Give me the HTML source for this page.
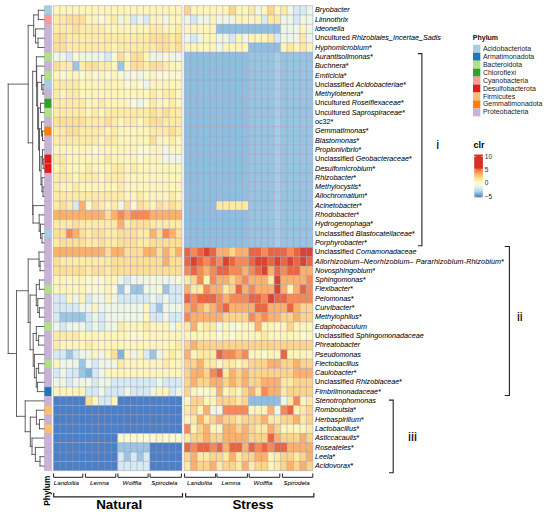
<!DOCTYPE html><html><head><meta charset="utf-8"><style>html,body{margin:0;padding:0;background:#fff;}svg{display:block;}text{font-family:"Liberation Sans",sans-serif;}</style></head><body>
<svg width="550" height="517" viewBox="0 0 550 517">
<rect width="550" height="517" fill="#fff"/>
<rect x="53.40" y="5.65" width="128.60" height="9.30" fill="#fef5ba"/>
<rect x="53.40" y="14.95" width="12.86" height="9.30" fill="#feeba8"/>
<rect x="66.26" y="14.95" width="19.29" height="9.30" fill="#fddf99"/>
<rect x="85.55" y="14.95" width="12.86" height="9.30" fill="#fef5ba"/>
<rect x="98.41" y="14.95" width="6.43" height="9.30" fill="#fbf9d2"/>
<rect x="104.84" y="14.95" width="6.43" height="9.30" fill="#fef5ba"/>
<rect x="111.27" y="14.95" width="6.43" height="9.30" fill="#feeba8"/>
<rect x="117.70" y="14.95" width="6.43" height="9.30" fill="#eef6e6"/>
<rect x="124.13" y="14.95" width="6.43" height="9.30" fill="#fef5ba"/>
<rect x="130.56" y="14.95" width="6.43" height="9.30" fill="#d6eaf3"/>
<rect x="136.99" y="14.95" width="6.43" height="9.30" fill="#eef6e6"/>
<rect x="143.42" y="14.95" width="6.43" height="9.30" fill="#d6eaf3"/>
<rect x="149.85" y="14.95" width="12.86" height="9.30" fill="#fef5ba"/>
<rect x="162.71" y="14.95" width="6.43" height="9.30" fill="#eef6e6"/>
<rect x="169.14" y="14.95" width="12.86" height="9.30" fill="#fef5ba"/>
<rect x="53.40" y="24.25" width="19.29" height="9.30" fill="#feeba8"/>
<rect x="72.69" y="24.25" width="6.43" height="9.30" fill="#fddf99"/>
<rect x="79.12" y="24.25" width="25.72" height="9.30" fill="#feeba8"/>
<rect x="104.84" y="24.25" width="45.01" height="9.30" fill="#fef5ba"/>
<rect x="149.85" y="24.25" width="12.86" height="9.30" fill="#feeba8"/>
<rect x="162.71" y="24.25" width="12.86" height="9.30" fill="#fef5ba"/>
<rect x="175.57" y="24.25" width="6.43" height="9.30" fill="#feeba8"/>
<rect x="53.40" y="33.55" width="12.86" height="9.30" fill="#fddf99"/>
<rect x="66.26" y="33.55" width="83.59" height="9.30" fill="#feeba8"/>
<rect x="149.85" y="33.55" width="19.29" height="9.30" fill="#fddf99"/>
<rect x="169.14" y="33.55" width="6.43" height="9.30" fill="#feeba8"/>
<rect x="175.57" y="33.55" width="6.43" height="9.30" fill="#fddf99"/>
<rect x="53.40" y="42.85" width="12.86" height="9.30" fill="#fddf99"/>
<rect x="66.26" y="42.85" width="45.01" height="9.30" fill="#feeba8"/>
<rect x="111.27" y="42.85" width="6.43" height="9.30" fill="#fef5ba"/>
<rect x="117.70" y="42.85" width="38.58" height="9.30" fill="#feeba8"/>
<rect x="156.28" y="42.85" width="12.86" height="9.30" fill="#fddf99"/>
<rect x="169.14" y="42.85" width="6.43" height="9.30" fill="#feeba8"/>
<rect x="175.57" y="42.85" width="6.43" height="9.30" fill="#fddf99"/>
<rect x="53.40" y="52.15" width="12.86" height="9.30" fill="#eef6e6"/>
<rect x="66.26" y="52.15" width="6.43" height="9.30" fill="#d6eaf3"/>
<rect x="72.69" y="52.15" width="6.43" height="9.30" fill="#fbf9d2"/>
<rect x="79.12" y="52.15" width="25.72" height="9.30" fill="#eef6e6"/>
<rect x="104.84" y="52.15" width="6.43" height="9.30" fill="#d6eaf3"/>
<rect x="111.27" y="52.15" width="6.43" height="9.30" fill="#fbf9d2"/>
<rect x="117.70" y="52.15" width="6.43" height="9.30" fill="#fddf99"/>
<rect x="124.13" y="52.15" width="6.43" height="9.30" fill="#fef5ba"/>
<rect x="130.56" y="52.15" width="12.86" height="9.30" fill="#fddf99"/>
<rect x="143.42" y="52.15" width="6.43" height="9.30" fill="#fef5ba"/>
<rect x="149.85" y="52.15" width="12.86" height="9.30" fill="#eef6e6"/>
<rect x="162.71" y="52.15" width="6.43" height="9.30" fill="#fbf9d2"/>
<rect x="169.14" y="52.15" width="12.86" height="9.30" fill="#eef6e6"/>
<rect x="53.40" y="61.45" width="6.43" height="9.30" fill="#fddf99"/>
<rect x="59.83" y="61.45" width="12.86" height="9.30" fill="#feeba8"/>
<rect x="72.69" y="61.45" width="6.43" height="9.30" fill="#9cc5e4"/>
<rect x="79.12" y="61.45" width="6.43" height="9.30" fill="#feeba8"/>
<rect x="85.55" y="61.45" width="12.86" height="9.30" fill="#fddf99"/>
<rect x="98.41" y="61.45" width="12.86" height="9.30" fill="#feeba8"/>
<rect x="111.27" y="61.45" width="6.43" height="9.30" fill="#fef5ba"/>
<rect x="117.70" y="61.45" width="6.43" height="9.30" fill="#9cc5e4"/>
<rect x="124.13" y="61.45" width="6.43" height="9.30" fill="#fef5ba"/>
<rect x="130.56" y="61.45" width="12.86" height="9.30" fill="#fddf99"/>
<rect x="143.42" y="61.45" width="6.43" height="9.30" fill="#feeba8"/>
<rect x="149.85" y="61.45" width="12.86" height="9.30" fill="#fddf99"/>
<rect x="162.71" y="61.45" width="6.43" height="9.30" fill="#feeba8"/>
<rect x="169.14" y="61.45" width="12.86" height="9.30" fill="#fef5ba"/>
<rect x="53.40" y="70.75" width="6.43" height="9.30" fill="#fef5ba"/>
<rect x="59.83" y="70.75" width="6.43" height="9.30" fill="#fbf9d2"/>
<rect x="66.26" y="70.75" width="12.86" height="9.30" fill="#fef5ba"/>
<rect x="79.12" y="70.75" width="6.43" height="9.30" fill="#fbf9d2"/>
<rect x="85.55" y="70.75" width="6.43" height="9.30" fill="#fef5ba"/>
<rect x="91.98" y="70.75" width="6.43" height="9.30" fill="#fbf9d2"/>
<rect x="98.41" y="70.75" width="6.43" height="9.30" fill="#fef5ba"/>
<rect x="104.84" y="70.75" width="6.43" height="9.30" fill="#fbf9d2"/>
<rect x="111.27" y="70.75" width="6.43" height="9.30" fill="#fef5ba"/>
<rect x="117.70" y="70.75" width="6.43" height="9.30" fill="#fbf9d2"/>
<rect x="124.13" y="70.75" width="6.43" height="9.30" fill="#eef6e6"/>
<rect x="130.56" y="70.75" width="6.43" height="9.30" fill="#fbf9d2"/>
<rect x="136.99" y="70.75" width="6.43" height="9.30" fill="#eef6e6"/>
<rect x="143.42" y="70.75" width="6.43" height="9.30" fill="#fbf9d2"/>
<rect x="149.85" y="70.75" width="6.43" height="9.30" fill="#fef5ba"/>
<rect x="156.28" y="70.75" width="25.72" height="9.30" fill="#fbf9d2"/>
<rect x="53.40" y="80.05" width="25.72" height="9.30" fill="#feeba8"/>
<rect x="79.12" y="80.05" width="45.01" height="9.30" fill="#fef5ba"/>
<rect x="124.13" y="80.05" width="6.43" height="9.30" fill="#fbf9d2"/>
<rect x="130.56" y="80.05" width="6.43" height="9.30" fill="#fef5ba"/>
<rect x="136.99" y="80.05" width="6.43" height="9.30" fill="#fbf9d2"/>
<rect x="143.42" y="80.05" width="6.43" height="9.30" fill="#eef6e6"/>
<rect x="149.85" y="80.05" width="32.15" height="9.30" fill="#fef5ba"/>
<rect x="53.40" y="89.35" width="6.43" height="9.30" fill="#feeba8"/>
<rect x="59.83" y="89.35" width="6.43" height="9.30" fill="#fef5ba"/>
<rect x="66.26" y="89.35" width="12.86" height="9.30" fill="#feeba8"/>
<rect x="79.12" y="89.35" width="70.73" height="9.30" fill="#fef5ba"/>
<rect x="149.85" y="89.35" width="6.43" height="9.30" fill="#feeba8"/>
<rect x="156.28" y="89.35" width="6.43" height="9.30" fill="#fef5ba"/>
<rect x="162.71" y="89.35" width="12.86" height="9.30" fill="#feeba8"/>
<rect x="175.57" y="89.35" width="6.43" height="9.30" fill="#fef5ba"/>
<rect x="53.40" y="98.65" width="32.15" height="9.30" fill="#feeba8"/>
<rect x="85.55" y="98.65" width="12.86" height="9.30" fill="#fef5ba"/>
<rect x="98.41" y="98.65" width="6.43" height="9.30" fill="#feeba8"/>
<rect x="104.84" y="98.65" width="25.72" height="9.30" fill="#fef5ba"/>
<rect x="130.56" y="98.65" width="6.43" height="9.30" fill="#fbf9d2"/>
<rect x="136.99" y="98.65" width="6.43" height="9.30" fill="#eef6e6"/>
<rect x="143.42" y="98.65" width="6.43" height="9.30" fill="#fbf9d2"/>
<rect x="149.85" y="98.65" width="6.43" height="9.30" fill="#feeba8"/>
<rect x="156.28" y="98.65" width="12.86" height="9.30" fill="#fef5ba"/>
<rect x="169.14" y="98.65" width="6.43" height="9.30" fill="#feeba8"/>
<rect x="175.57" y="98.65" width="6.43" height="9.30" fill="#fef5ba"/>
<rect x="53.40" y="107.95" width="32.15" height="9.30" fill="#feeba8"/>
<rect x="85.55" y="107.95" width="6.43" height="9.30" fill="#fef5ba"/>
<rect x="91.98" y="107.95" width="6.43" height="9.30" fill="#feeba8"/>
<rect x="98.41" y="107.95" width="6.43" height="9.30" fill="#fef5ba"/>
<rect x="104.84" y="107.95" width="45.01" height="9.30" fill="#feeba8"/>
<rect x="149.85" y="107.95" width="6.43" height="9.30" fill="#fddf99"/>
<rect x="156.28" y="107.95" width="6.43" height="9.30" fill="#feeba8"/>
<rect x="162.71" y="107.95" width="6.43" height="9.30" fill="#fddf99"/>
<rect x="169.14" y="107.95" width="12.86" height="9.30" fill="#feeba8"/>
<rect x="53.40" y="117.25" width="32.15" height="9.30" fill="#fddf99"/>
<rect x="85.55" y="117.25" width="19.29" height="9.30" fill="#feeba8"/>
<rect x="104.84" y="117.25" width="6.43" height="9.30" fill="#fddf99"/>
<rect x="111.27" y="117.25" width="6.43" height="9.30" fill="#feeba8"/>
<rect x="117.70" y="117.25" width="6.43" height="9.30" fill="#fef5ba"/>
<rect x="124.13" y="117.25" width="12.86" height="9.30" fill="#feeba8"/>
<rect x="136.99" y="117.25" width="6.43" height="9.30" fill="#fef5ba"/>
<rect x="143.42" y="117.25" width="6.43" height="9.30" fill="#feeba8"/>
<rect x="149.85" y="117.25" width="12.86" height="9.30" fill="#fddf99"/>
<rect x="162.71" y="117.25" width="19.29" height="9.30" fill="#feeba8"/>
<rect x="53.40" y="126.55" width="12.86" height="9.30" fill="#feeba8"/>
<rect x="66.26" y="126.55" width="12.86" height="9.30" fill="#fddf99"/>
<rect x="79.12" y="126.55" width="25.72" height="9.30" fill="#feeba8"/>
<rect x="104.84" y="126.55" width="6.43" height="9.30" fill="#fef5ba"/>
<rect x="111.27" y="126.55" width="6.43" height="9.30" fill="#feeba8"/>
<rect x="117.70" y="126.55" width="32.15" height="9.30" fill="#fef5ba"/>
<rect x="149.85" y="126.55" width="19.29" height="9.30" fill="#feeba8"/>
<rect x="169.14" y="126.55" width="6.43" height="9.30" fill="#fddf99"/>
<rect x="175.57" y="126.55" width="6.43" height="9.30" fill="#feeba8"/>
<rect x="53.40" y="135.85" width="45.01" height="9.30" fill="#feeba8"/>
<rect x="98.41" y="135.85" width="6.43" height="9.30" fill="#fef5ba"/>
<rect x="104.84" y="135.85" width="12.86" height="9.30" fill="#feeba8"/>
<rect x="117.70" y="135.85" width="32.15" height="9.30" fill="#fef5ba"/>
<rect x="149.85" y="135.85" width="6.43" height="9.30" fill="#fddf99"/>
<rect x="156.28" y="135.85" width="12.86" height="9.30" fill="#fef5ba"/>
<rect x="169.14" y="135.85" width="6.43" height="9.30" fill="#feeba8"/>
<rect x="175.57" y="135.85" width="6.43" height="9.30" fill="#fef5ba"/>
<rect x="53.40" y="145.15" width="38.58" height="9.30" fill="#fef5ba"/>
<rect x="91.98" y="145.15" width="6.43" height="9.30" fill="#fbf9d2"/>
<rect x="98.41" y="145.15" width="38.58" height="9.30" fill="#fef5ba"/>
<rect x="136.99" y="145.15" width="12.86" height="9.30" fill="#fbf9d2"/>
<rect x="149.85" y="145.15" width="12.86" height="9.30" fill="#fef5ba"/>
<rect x="162.71" y="145.15" width="6.43" height="9.30" fill="#eef6e6"/>
<rect x="169.14" y="145.15" width="12.86" height="9.30" fill="#fef5ba"/>
<rect x="53.40" y="154.45" width="12.86" height="9.30" fill="#feeba8"/>
<rect x="66.26" y="154.45" width="38.58" height="9.30" fill="#fef5ba"/>
<rect x="104.84" y="154.45" width="6.43" height="9.30" fill="#feeba8"/>
<rect x="111.27" y="154.45" width="25.72" height="9.30" fill="#fef5ba"/>
<rect x="136.99" y="154.45" width="6.43" height="9.30" fill="#fbf9d2"/>
<rect x="143.42" y="154.45" width="19.29" height="9.30" fill="#fef5ba"/>
<rect x="162.71" y="154.45" width="19.29" height="9.30" fill="#eef6e6"/>
<rect x="53.40" y="163.75" width="6.43" height="9.30" fill="#fef5ba"/>
<rect x="59.83" y="163.75" width="6.43" height="9.30" fill="#feeba8"/>
<rect x="66.26" y="163.75" width="19.29" height="9.30" fill="#fef5ba"/>
<rect x="85.55" y="163.75" width="6.43" height="9.30" fill="#feeba8"/>
<rect x="91.98" y="163.75" width="19.29" height="9.30" fill="#fef5ba"/>
<rect x="111.27" y="163.75" width="12.86" height="9.30" fill="#feeba8"/>
<rect x="124.13" y="163.75" width="6.43" height="9.30" fill="#fef5ba"/>
<rect x="130.56" y="163.75" width="6.43" height="9.30" fill="#feeba8"/>
<rect x="136.99" y="163.75" width="45.01" height="9.30" fill="#fef5ba"/>
<rect x="53.40" y="173.05" width="19.29" height="9.30" fill="#feeba8"/>
<rect x="72.69" y="173.05" width="6.43" height="9.30" fill="#fef5ba"/>
<rect x="79.12" y="173.05" width="19.29" height="9.30" fill="#feeba8"/>
<rect x="98.41" y="173.05" width="6.43" height="9.30" fill="#fef5ba"/>
<rect x="104.84" y="173.05" width="19.29" height="9.30" fill="#feeba8"/>
<rect x="124.13" y="173.05" width="57.87" height="9.30" fill="#fef5ba"/>
<rect x="53.40" y="182.35" width="6.43" height="9.30" fill="#feeba8"/>
<rect x="59.83" y="182.35" width="12.86" height="9.30" fill="#fef5ba"/>
<rect x="72.69" y="182.35" width="6.43" height="9.30" fill="#feeba8"/>
<rect x="79.12" y="182.35" width="38.58" height="9.30" fill="#fef5ba"/>
<rect x="117.70" y="182.35" width="6.43" height="9.30" fill="#feeba8"/>
<rect x="124.13" y="182.35" width="57.87" height="9.30" fill="#fef5ba"/>
<rect x="53.40" y="191.65" width="70.73" height="9.30" fill="#feeba8"/>
<rect x="124.13" y="191.65" width="12.86" height="9.30" fill="#fef5ba"/>
<rect x="136.99" y="191.65" width="6.43" height="9.30" fill="#feeba8"/>
<rect x="143.42" y="191.65" width="25.72" height="9.30" fill="#fef5ba"/>
<rect x="169.14" y="191.65" width="6.43" height="9.30" fill="#feeba8"/>
<rect x="175.57" y="191.65" width="6.43" height="9.30" fill="#fef5ba"/>
<rect x="53.40" y="200.95" width="6.43" height="9.30" fill="#feeba8"/>
<rect x="59.83" y="200.95" width="6.43" height="9.30" fill="#fddf99"/>
<rect x="66.26" y="200.95" width="6.43" height="9.30" fill="#feeba8"/>
<rect x="72.69" y="200.95" width="6.43" height="9.30" fill="#d6eaf3"/>
<rect x="79.12" y="200.95" width="6.43" height="9.30" fill="#fbb06c"/>
<rect x="85.55" y="200.95" width="6.43" height="9.30" fill="#fbf9d2"/>
<rect x="91.98" y="200.95" width="6.43" height="9.30" fill="#fddf99"/>
<rect x="98.41" y="200.95" width="6.43" height="9.30" fill="#feeba8"/>
<rect x="104.84" y="200.95" width="6.43" height="9.30" fill="#fef5ba"/>
<rect x="111.27" y="200.95" width="6.43" height="9.30" fill="#feeba8"/>
<rect x="117.70" y="200.95" width="6.43" height="9.30" fill="#eef6e6"/>
<rect x="124.13" y="200.95" width="6.43" height="9.30" fill="#fddf99"/>
<rect x="130.56" y="200.95" width="6.43" height="9.30" fill="#fbf9d2"/>
<rect x="136.99" y="200.95" width="6.43" height="9.30" fill="#fddf99"/>
<rect x="143.42" y="200.95" width="6.43" height="9.30" fill="#feeba8"/>
<rect x="149.85" y="200.95" width="6.43" height="9.30" fill="#fef5ba"/>
<rect x="156.28" y="200.95" width="6.43" height="9.30" fill="#fddf99"/>
<rect x="162.71" y="200.95" width="6.43" height="9.30" fill="#feeba8"/>
<rect x="169.14" y="200.95" width="6.43" height="9.30" fill="#fddf99"/>
<rect x="175.57" y="200.95" width="6.43" height="9.30" fill="#feeba8"/>
<rect x="53.40" y="210.25" width="51.44" height="9.30" fill="#fbb06c"/>
<rect x="104.84" y="210.25" width="6.43" height="9.30" fill="#fddf99"/>
<rect x="111.27" y="210.25" width="6.43" height="9.30" fill="#fbb06c"/>
<rect x="117.70" y="210.25" width="6.43" height="9.30" fill="#f58a55"/>
<rect x="124.13" y="210.25" width="6.43" height="9.30" fill="#fbb06c"/>
<rect x="130.56" y="210.25" width="19.29" height="9.30" fill="#f58a55"/>
<rect x="149.85" y="210.25" width="32.15" height="9.30" fill="#fbb06c"/>
<rect x="53.40" y="219.55" width="19.29" height="9.30" fill="#feeba8"/>
<rect x="72.69" y="219.55" width="6.43" height="9.30" fill="#fddf99"/>
<rect x="79.12" y="219.55" width="38.58" height="9.30" fill="#feeba8"/>
<rect x="117.70" y="219.55" width="6.43" height="9.30" fill="#fbb06c"/>
<rect x="124.13" y="219.55" width="6.43" height="9.30" fill="#feeba8"/>
<rect x="130.56" y="219.55" width="19.29" height="9.30" fill="#fddf99"/>
<rect x="149.85" y="219.55" width="32.15" height="9.30" fill="#feeba8"/>
<rect x="53.40" y="228.85" width="12.86" height="9.30" fill="#fddf99"/>
<rect x="66.26" y="228.85" width="6.43" height="9.30" fill="#f58a55"/>
<rect x="72.69" y="228.85" width="6.43" height="9.30" fill="#fbb06c"/>
<rect x="79.12" y="228.85" width="6.43" height="9.30" fill="#fddf99"/>
<rect x="85.55" y="228.85" width="6.43" height="9.30" fill="#feeba8"/>
<rect x="91.98" y="228.85" width="12.86" height="9.30" fill="#fddf99"/>
<rect x="104.84" y="228.85" width="12.86" height="9.30" fill="#feeba8"/>
<rect x="117.70" y="228.85" width="19.29" height="9.30" fill="#fddf99"/>
<rect x="136.99" y="228.85" width="12.86" height="9.30" fill="#feeba8"/>
<rect x="149.85" y="228.85" width="6.43" height="9.30" fill="#fbb06c"/>
<rect x="156.28" y="228.85" width="6.43" height="9.30" fill="#fddf99"/>
<rect x="162.71" y="228.85" width="6.43" height="9.30" fill="#f58a55"/>
<rect x="169.14" y="228.85" width="6.43" height="9.30" fill="#fbb06c"/>
<rect x="175.57" y="228.85" width="6.43" height="9.30" fill="#fddf99"/>
<rect x="53.40" y="238.15" width="6.43" height="9.30" fill="#feeba8"/>
<rect x="59.83" y="238.15" width="25.72" height="9.30" fill="#fddf99"/>
<rect x="85.55" y="238.15" width="12.86" height="9.30" fill="#feeba8"/>
<rect x="98.41" y="238.15" width="6.43" height="9.30" fill="#fddf99"/>
<rect x="104.84" y="238.15" width="12.86" height="9.30" fill="#feeba8"/>
<rect x="117.70" y="238.15" width="19.29" height="9.30" fill="#fddf99"/>
<rect x="136.99" y="238.15" width="12.86" height="9.30" fill="#feeba8"/>
<rect x="149.85" y="238.15" width="32.15" height="9.30" fill="#fddf99"/>
<rect x="53.40" y="247.45" width="51.44" height="9.30" fill="#fbb06c"/>
<rect x="104.84" y="247.45" width="6.43" height="9.30" fill="#fddf99"/>
<rect x="111.27" y="247.45" width="12.86" height="9.30" fill="#fbb06c"/>
<rect x="124.13" y="247.45" width="19.29" height="9.30" fill="#fddf99"/>
<rect x="143.42" y="247.45" width="12.86" height="9.30" fill="#fbb06c"/>
<rect x="156.28" y="247.45" width="6.43" height="9.30" fill="#fddf99"/>
<rect x="162.71" y="247.45" width="6.43" height="9.30" fill="#fbb06c"/>
<rect x="169.14" y="247.45" width="6.43" height="9.30" fill="#fddf99"/>
<rect x="175.57" y="247.45" width="6.43" height="9.30" fill="#fbb06c"/>
<rect x="53.40" y="256.75" width="6.43" height="9.30" fill="#fddf99"/>
<rect x="59.83" y="256.75" width="51.44" height="9.30" fill="#feeba8"/>
<rect x="111.27" y="256.75" width="51.44" height="9.30" fill="#fddf99"/>
<rect x="162.71" y="256.75" width="6.43" height="9.30" fill="#fbb06c"/>
<rect x="169.14" y="256.75" width="12.86" height="9.30" fill="#fddf99"/>
<rect x="53.40" y="266.05" width="32.15" height="9.30" fill="#fddf99"/>
<rect x="85.55" y="266.05" width="6.43" height="9.30" fill="#feeba8"/>
<rect x="91.98" y="266.05" width="12.86" height="9.30" fill="#fddf99"/>
<rect x="104.84" y="266.05" width="6.43" height="9.30" fill="#feeba8"/>
<rect x="111.27" y="266.05" width="70.73" height="9.30" fill="#fddf99"/>
<rect x="53.40" y="275.35" width="32.15" height="9.30" fill="#fef5ba"/>
<rect x="85.55" y="275.35" width="19.29" height="9.30" fill="#fbf9d2"/>
<rect x="104.84" y="275.35" width="12.86" height="9.30" fill="#fef5ba"/>
<rect x="117.70" y="275.35" width="6.43" height="9.30" fill="#eef6e6"/>
<rect x="124.13" y="275.35" width="6.43" height="9.30" fill="#d6eaf3"/>
<rect x="130.56" y="275.35" width="19.29" height="9.30" fill="#eef6e6"/>
<rect x="149.85" y="275.35" width="6.43" height="9.30" fill="#fbf9d2"/>
<rect x="156.28" y="275.35" width="19.29" height="9.30" fill="#eef6e6"/>
<rect x="175.57" y="275.35" width="6.43" height="9.30" fill="#fbf9d2"/>
<rect x="53.40" y="284.65" width="32.15" height="9.30" fill="#fef5ba"/>
<rect x="85.55" y="284.65" width="19.29" height="9.30" fill="#fbf9d2"/>
<rect x="104.84" y="284.65" width="6.43" height="9.30" fill="#fef5ba"/>
<rect x="111.27" y="284.65" width="6.43" height="9.30" fill="#fbf9d2"/>
<rect x="117.70" y="284.65" width="6.43" height="9.30" fill="#9cc5e4"/>
<rect x="124.13" y="284.65" width="6.43" height="9.30" fill="#eef6e6"/>
<rect x="130.56" y="284.65" width="12.86" height="9.30" fill="#9cc5e4"/>
<rect x="143.42" y="284.65" width="12.86" height="9.30" fill="#eef6e6"/>
<rect x="156.28" y="284.65" width="6.43" height="9.30" fill="#fbf9d2"/>
<rect x="162.71" y="284.65" width="6.43" height="9.30" fill="#9cc5e4"/>
<rect x="169.14" y="284.65" width="12.86" height="9.30" fill="#d6eaf3"/>
<rect x="53.40" y="293.95" width="12.86" height="9.30" fill="#d6eaf3"/>
<rect x="66.26" y="293.95" width="6.43" height="9.30" fill="#fef5ba"/>
<rect x="72.69" y="293.95" width="6.43" height="9.30" fill="#eef6e6"/>
<rect x="79.12" y="293.95" width="6.43" height="9.30" fill="#fef5ba"/>
<rect x="85.55" y="293.95" width="6.43" height="9.30" fill="#d6eaf3"/>
<rect x="91.98" y="293.95" width="12.86" height="9.30" fill="#eef6e6"/>
<rect x="104.84" y="293.95" width="6.43" height="9.30" fill="#fef5ba"/>
<rect x="111.27" y="293.95" width="6.43" height="9.30" fill="#eef6e6"/>
<rect x="117.70" y="293.95" width="32.15" height="9.30" fill="#d6eaf3"/>
<rect x="149.85" y="293.95" width="6.43" height="9.30" fill="#eef6e6"/>
<rect x="156.28" y="293.95" width="6.43" height="9.30" fill="#d6eaf3"/>
<rect x="162.71" y="293.95" width="6.43" height="9.30" fill="#eef6e6"/>
<rect x="169.14" y="293.95" width="12.86" height="9.30" fill="#d6eaf3"/>
<rect x="53.40" y="303.25" width="25.72" height="9.30" fill="#d6eaf3"/>
<rect x="79.12" y="303.25" width="12.86" height="9.30" fill="#eef6e6"/>
<rect x="91.98" y="303.25" width="6.43" height="9.30" fill="#fef5ba"/>
<rect x="98.41" y="303.25" width="45.01" height="9.30" fill="#eef6e6"/>
<rect x="143.42" y="303.25" width="6.43" height="9.30" fill="#fef5ba"/>
<rect x="149.85" y="303.25" width="6.43" height="9.30" fill="#d6eaf3"/>
<rect x="156.28" y="303.25" width="6.43" height="9.30" fill="#9cc5e4"/>
<rect x="162.71" y="303.25" width="19.29" height="9.30" fill="#eef6e6"/>
<rect x="53.40" y="312.55" width="6.43" height="9.30" fill="#d6eaf3"/>
<rect x="59.83" y="312.55" width="25.72" height="9.30" fill="#9cc5e4"/>
<rect x="85.55" y="312.55" width="6.43" height="9.30" fill="#d6eaf3"/>
<rect x="91.98" y="312.55" width="6.43" height="9.30" fill="#eef6e6"/>
<rect x="98.41" y="312.55" width="6.43" height="9.30" fill="#d6eaf3"/>
<rect x="104.84" y="312.55" width="38.58" height="9.30" fill="#eef6e6"/>
<rect x="143.42" y="312.55" width="6.43" height="9.30" fill="#fef5ba"/>
<rect x="149.85" y="312.55" width="12.86" height="9.30" fill="#d6eaf3"/>
<rect x="162.71" y="312.55" width="6.43" height="9.30" fill="#eef6e6"/>
<rect x="169.14" y="312.55" width="12.86" height="9.30" fill="#d6eaf3"/>
<rect x="53.40" y="321.85" width="6.43" height="9.30" fill="#eef6e6"/>
<rect x="59.83" y="321.85" width="6.43" height="9.30" fill="#d6eaf3"/>
<rect x="66.26" y="321.85" width="19.29" height="9.30" fill="#eef6e6"/>
<rect x="85.55" y="321.85" width="6.43" height="9.30" fill="#d6eaf3"/>
<rect x="91.98" y="321.85" width="6.43" height="9.30" fill="#eef6e6"/>
<rect x="98.41" y="321.85" width="6.43" height="9.30" fill="#d6eaf3"/>
<rect x="104.84" y="321.85" width="12.86" height="9.30" fill="#eef6e6"/>
<rect x="117.70" y="321.85" width="6.43" height="9.30" fill="#feeba8"/>
<rect x="124.13" y="321.85" width="19.29" height="9.30" fill="#fef5ba"/>
<rect x="143.42" y="321.85" width="6.43" height="9.30" fill="#feeba8"/>
<rect x="149.85" y="321.85" width="19.29" height="9.30" fill="#fef5ba"/>
<rect x="169.14" y="321.85" width="6.43" height="9.30" fill="#eef6e6"/>
<rect x="175.57" y="321.85" width="6.43" height="9.30" fill="#fef5ba"/>
<rect x="53.40" y="331.15" width="25.72" height="9.30" fill="#feeba8"/>
<rect x="79.12" y="331.15" width="51.44" height="9.30" fill="#fef5ba"/>
<rect x="130.56" y="331.15" width="12.86" height="9.30" fill="#fbf9d2"/>
<rect x="143.42" y="331.15" width="38.58" height="9.30" fill="#fef5ba"/>
<rect x="53.40" y="340.45" width="6.43" height="9.30" fill="#feeba8"/>
<rect x="59.83" y="340.45" width="25.72" height="9.30" fill="#fef5ba"/>
<rect x="85.55" y="340.45" width="6.43" height="9.30" fill="#feeba8"/>
<rect x="91.98" y="340.45" width="83.59" height="9.30" fill="#fef5ba"/>
<rect x="175.57" y="340.45" width="6.43" height="9.30" fill="#feeba8"/>
<rect x="53.40" y="349.75" width="12.86" height="9.30" fill="#d6eaf3"/>
<rect x="66.26" y="349.75" width="6.43" height="9.30" fill="#9cc5e4"/>
<rect x="72.69" y="349.75" width="6.43" height="9.30" fill="#d6eaf3"/>
<rect x="79.12" y="349.75" width="12.86" height="9.30" fill="#eef6e6"/>
<rect x="91.98" y="349.75" width="6.43" height="9.30" fill="#fef5ba"/>
<rect x="98.41" y="349.75" width="6.43" height="9.30" fill="#eef6e6"/>
<rect x="104.84" y="349.75" width="6.43" height="9.30" fill="#fef5ba"/>
<rect x="111.27" y="349.75" width="6.43" height="9.30" fill="#fddf99"/>
<rect x="117.70" y="349.75" width="6.43" height="9.30" fill="#7eb3db"/>
<rect x="124.13" y="349.75" width="6.43" height="9.30" fill="#fef5ba"/>
<rect x="130.56" y="349.75" width="6.43" height="9.30" fill="#eef6e6"/>
<rect x="136.99" y="349.75" width="6.43" height="9.30" fill="#fef5ba"/>
<rect x="143.42" y="349.75" width="6.43" height="9.30" fill="#d6eaf3"/>
<rect x="149.85" y="349.75" width="6.43" height="9.30" fill="#9cc5e4"/>
<rect x="156.28" y="349.75" width="6.43" height="9.30" fill="#eef6e6"/>
<rect x="162.71" y="349.75" width="6.43" height="9.30" fill="#fef5ba"/>
<rect x="169.14" y="349.75" width="6.43" height="9.30" fill="#feeba8"/>
<rect x="175.57" y="349.75" width="6.43" height="9.30" fill="#fef5ba"/>
<rect x="53.40" y="359.05" width="6.43" height="9.30" fill="#fef5ba"/>
<rect x="59.83" y="359.05" width="19.29" height="9.30" fill="#eef6e6"/>
<rect x="79.12" y="359.05" width="6.43" height="9.30" fill="#9cc5e4"/>
<rect x="85.55" y="359.05" width="6.43" height="9.30" fill="#eef6e6"/>
<rect x="91.98" y="359.05" width="6.43" height="9.30" fill="#d6eaf3"/>
<rect x="98.41" y="359.05" width="19.29" height="9.30" fill="#eef6e6"/>
<rect x="117.70" y="359.05" width="6.43" height="9.30" fill="#feeba8"/>
<rect x="124.13" y="359.05" width="38.58" height="9.30" fill="#fef5ba"/>
<rect x="162.71" y="359.05" width="6.43" height="9.30" fill="#feeba8"/>
<rect x="169.14" y="359.05" width="12.86" height="9.30" fill="#fef5ba"/>
<rect x="53.40" y="368.35" width="6.43" height="9.30" fill="#d6eaf3"/>
<rect x="59.83" y="368.35" width="6.43" height="9.30" fill="#eef6e6"/>
<rect x="66.26" y="368.35" width="12.86" height="9.30" fill="#d6eaf3"/>
<rect x="79.12" y="368.35" width="6.43" height="9.30" fill="#9cc5e4"/>
<rect x="85.55" y="368.35" width="6.43" height="9.30" fill="#7eb3db"/>
<rect x="91.98" y="368.35" width="6.43" height="9.30" fill="#d6eaf3"/>
<rect x="98.41" y="368.35" width="6.43" height="9.30" fill="#eef6e6"/>
<rect x="104.84" y="368.35" width="77.16" height="9.30" fill="#fef5ba"/>
<rect x="53.40" y="377.65" width="12.86" height="9.30" fill="#eef6e6"/>
<rect x="66.26" y="377.65" width="6.43" height="9.30" fill="#d6eaf3"/>
<rect x="72.69" y="377.65" width="19.29" height="9.30" fill="#eef6e6"/>
<rect x="91.98" y="377.65" width="6.43" height="9.30" fill="#d6eaf3"/>
<rect x="98.41" y="377.65" width="12.86" height="9.30" fill="#eef6e6"/>
<rect x="111.27" y="377.65" width="45.01" height="9.30" fill="#d6eaf3"/>
<rect x="156.28" y="377.65" width="6.43" height="9.30" fill="#eef6e6"/>
<rect x="162.71" y="377.65" width="19.29" height="9.30" fill="#d6eaf3"/>
<rect x="53.40" y="386.95" width="32.15" height="9.30" fill="#fef5ba"/>
<rect x="85.55" y="386.95" width="12.86" height="9.30" fill="#d6eaf3"/>
<rect x="98.41" y="386.95" width="6.43" height="9.30" fill="#eef6e6"/>
<rect x="104.84" y="386.95" width="19.29" height="9.30" fill="#d6eaf3"/>
<rect x="124.13" y="386.95" width="6.43" height="9.30" fill="#eef6e6"/>
<rect x="130.56" y="386.95" width="19.29" height="9.30" fill="#d6eaf3"/>
<rect x="149.85" y="386.95" width="6.43" height="9.30" fill="#eef6e6"/>
<rect x="156.28" y="386.95" width="12.86" height="9.30" fill="#fef5ba"/>
<rect x="169.14" y="386.95" width="6.43" height="9.30" fill="#d6eaf3"/>
<rect x="175.57" y="386.95" width="6.43" height="9.30" fill="#eef6e6"/>
<rect x="53.40" y="396.25" width="32.15" height="9.30" fill="#4c7fc5"/>
<rect x="85.55" y="396.25" width="6.43" height="9.30" fill="#fddf99"/>
<rect x="91.98" y="396.25" width="6.43" height="9.30" fill="#fef5ba"/>
<rect x="98.41" y="396.25" width="12.86" height="9.30" fill="#d6eaf3"/>
<rect x="111.27" y="396.25" width="6.43" height="9.30" fill="#fef5ba"/>
<rect x="117.70" y="396.25" width="64.30" height="9.30" fill="#4c7fc5"/>
<rect x="53.40" y="405.55" width="128.60" height="9.30" fill="#4c7fc5"/>
<rect x="53.40" y="414.85" width="128.60" height="9.30" fill="#4c7fc5"/>
<rect x="53.40" y="424.15" width="128.60" height="9.30" fill="#4c7fc5"/>
<rect x="53.40" y="433.45" width="64.30" height="9.30" fill="#4c7fc5"/>
<rect x="117.70" y="433.45" width="38.58" height="9.30" fill="#fbf9d2"/>
<rect x="156.28" y="433.45" width="6.43" height="9.30" fill="#fef5ba"/>
<rect x="162.71" y="433.45" width="19.29" height="9.30" fill="#fbf9d2"/>
<rect x="53.40" y="442.75" width="64.30" height="9.30" fill="#4c7fc5"/>
<rect x="117.70" y="442.75" width="32.15" height="9.30" fill="#9cc5e4"/>
<rect x="149.85" y="442.75" width="32.15" height="9.30" fill="#4c7fc5"/>
<rect x="53.40" y="452.05" width="64.30" height="9.30" fill="#4c7fc5"/>
<rect x="117.70" y="452.05" width="6.43" height="9.30" fill="#d6eaf3"/>
<rect x="124.13" y="452.05" width="6.43" height="9.30" fill="#9cc5e4"/>
<rect x="130.56" y="452.05" width="6.43" height="9.30" fill="#d6eaf3"/>
<rect x="136.99" y="452.05" width="6.43" height="9.30" fill="#9cc5e4"/>
<rect x="143.42" y="452.05" width="6.43" height="9.30" fill="#d6eaf3"/>
<rect x="149.85" y="452.05" width="32.15" height="9.30" fill="#4c7fc5"/>
<rect x="53.40" y="461.35" width="64.30" height="9.30" fill="#4c7fc5"/>
<rect x="117.70" y="461.35" width="32.15" height="9.30" fill="#d6eaf3"/>
<rect x="149.85" y="461.35" width="32.15" height="9.30" fill="#4c7fc5"/>
<rect x="184.20" y="5.65" width="6.43" height="9.30" fill="#fcd48c"/>
<rect x="190.63" y="5.65" width="38.58" height="9.30" fill="#fef5ba"/>
<rect x="229.21" y="5.65" width="6.43" height="9.30" fill="#fcd48c"/>
<rect x="235.64" y="5.65" width="12.86" height="9.30" fill="#fef5ba"/>
<rect x="248.50" y="5.65" width="6.43" height="9.30" fill="#feeaa4"/>
<rect x="254.93" y="5.65" width="6.43" height="9.30" fill="#eef6e6"/>
<rect x="261.36" y="5.65" width="6.43" height="9.30" fill="#fef5ba"/>
<rect x="267.79" y="5.65" width="6.43" height="9.30" fill="#fcd48c"/>
<rect x="274.22" y="5.65" width="6.43" height="9.30" fill="#fef5ba"/>
<rect x="280.65" y="5.65" width="6.43" height="9.30" fill="#feeaa4"/>
<rect x="287.08" y="5.65" width="6.43" height="9.30" fill="#eef6e6"/>
<rect x="293.51" y="5.65" width="12.86" height="9.30" fill="#d6eaf3"/>
<rect x="306.37" y="5.65" width="6.43" height="9.30" fill="#eef6e6"/>
<rect x="184.20" y="14.95" width="6.43" height="9.30" fill="#eef6e6"/>
<rect x="190.63" y="14.95" width="6.43" height="9.30" fill="#d6eaf3"/>
<rect x="197.06" y="14.95" width="12.86" height="9.30" fill="#eef6e6"/>
<rect x="209.92" y="14.95" width="6.43" height="9.30" fill="#fef5ba"/>
<rect x="216.35" y="14.95" width="19.29" height="9.30" fill="#eef6e6"/>
<rect x="235.64" y="14.95" width="25.72" height="9.30" fill="#fef5ba"/>
<rect x="261.36" y="14.95" width="6.43" height="9.30" fill="#d6eaf3"/>
<rect x="267.79" y="14.95" width="12.86" height="9.30" fill="#feeaa4"/>
<rect x="280.65" y="14.95" width="12.86" height="9.30" fill="#eef6e6"/>
<rect x="293.51" y="14.95" width="6.43" height="9.30" fill="#d6eaf3"/>
<rect x="299.94" y="14.95" width="12.86" height="9.30" fill="#eef6e6"/>
<rect x="184.20" y="24.25" width="32.15" height="9.30" fill="#fef5ba"/>
<rect x="216.35" y="24.25" width="64.30" height="9.30" fill="#8ebfe0"/>
<rect x="280.65" y="24.25" width="19.29" height="9.30" fill="#eef6e6"/>
<rect x="299.94" y="24.25" width="6.43" height="9.30" fill="#fef5ba"/>
<rect x="306.37" y="24.25" width="6.43" height="9.30" fill="#eef6e6"/>
<rect x="184.20" y="33.55" width="6.43" height="9.30" fill="#eef6e6"/>
<rect x="190.63" y="33.55" width="6.43" height="9.30" fill="#d6eaf3"/>
<rect x="197.06" y="33.55" width="6.43" height="9.30" fill="#eef6e6"/>
<rect x="203.49" y="33.55" width="12.86" height="9.30" fill="#fef5ba"/>
<rect x="216.35" y="33.55" width="12.86" height="9.30" fill="#eef6e6"/>
<rect x="229.21" y="33.55" width="6.43" height="9.30" fill="#d6eaf3"/>
<rect x="235.64" y="33.55" width="6.43" height="9.30" fill="#fef5ba"/>
<rect x="242.07" y="33.55" width="6.43" height="9.30" fill="#eef6e6"/>
<rect x="248.50" y="33.55" width="19.29" height="9.30" fill="#fef5ba"/>
<rect x="267.79" y="33.55" width="6.43" height="9.30" fill="#feeaa4"/>
<rect x="274.22" y="33.55" width="6.43" height="9.30" fill="#d6eaf3"/>
<rect x="280.65" y="33.55" width="19.29" height="9.30" fill="#eef6e6"/>
<rect x="299.94" y="33.55" width="6.43" height="9.30" fill="#feeaa4"/>
<rect x="306.37" y="33.55" width="6.43" height="9.30" fill="#eef6e6"/>
<rect x="184.20" y="42.85" width="32.15" height="9.30" fill="#fef5ba"/>
<rect x="216.35" y="42.85" width="6.43" height="9.30" fill="#eef6e6"/>
<rect x="222.78" y="42.85" width="25.72" height="9.30" fill="#fef5ba"/>
<rect x="248.50" y="42.85" width="32.15" height="9.30" fill="#8ebfe0"/>
<rect x="280.65" y="42.85" width="6.43" height="9.30" fill="#fef5ba"/>
<rect x="287.08" y="42.85" width="6.43" height="9.30" fill="#feeaa4"/>
<rect x="293.51" y="42.85" width="6.43" height="9.30" fill="#fef5ba"/>
<rect x="299.94" y="42.85" width="6.43" height="9.30" fill="#feeaa4"/>
<rect x="306.37" y="42.85" width="6.43" height="9.30" fill="#fef5ba"/>
<rect x="184.20" y="52.15" width="64.30" height="9.30" fill="#8ebfe0"/>
<rect x="248.50" y="52.15" width="25.72" height="9.30" fill="#96c4e2"/>
<rect x="274.22" y="52.15" width="6.43" height="9.30" fill="#a6cde7"/>
<rect x="280.65" y="52.15" width="32.15" height="9.30" fill="#96c4e2"/>
<rect x="184.20" y="61.45" width="64.30" height="9.30" fill="#8ebfe0"/>
<rect x="248.50" y="61.45" width="25.72" height="9.30" fill="#96c4e2"/>
<rect x="274.22" y="61.45" width="6.43" height="9.30" fill="#a6cde7"/>
<rect x="280.65" y="61.45" width="32.15" height="9.30" fill="#96c4e2"/>
<rect x="184.20" y="70.75" width="64.30" height="9.30" fill="#8ebfe0"/>
<rect x="248.50" y="70.75" width="25.72" height="9.30" fill="#96c4e2"/>
<rect x="274.22" y="70.75" width="6.43" height="9.30" fill="#a6cde7"/>
<rect x="280.65" y="70.75" width="32.15" height="9.30" fill="#96c4e2"/>
<rect x="184.20" y="80.05" width="64.30" height="9.30" fill="#8ebfe0"/>
<rect x="248.50" y="80.05" width="25.72" height="9.30" fill="#96c4e2"/>
<rect x="274.22" y="80.05" width="6.43" height="9.30" fill="#a6cde7"/>
<rect x="280.65" y="80.05" width="32.15" height="9.30" fill="#96c4e2"/>
<rect x="184.20" y="89.35" width="64.30" height="9.30" fill="#8ebfe0"/>
<rect x="248.50" y="89.35" width="25.72" height="9.30" fill="#96c4e2"/>
<rect x="274.22" y="89.35" width="6.43" height="9.30" fill="#a6cde7"/>
<rect x="280.65" y="89.35" width="32.15" height="9.30" fill="#96c4e2"/>
<rect x="184.20" y="98.65" width="64.30" height="9.30" fill="#8ebfe0"/>
<rect x="248.50" y="98.65" width="25.72" height="9.30" fill="#96c4e2"/>
<rect x="274.22" y="98.65" width="6.43" height="9.30" fill="#a6cde7"/>
<rect x="280.65" y="98.65" width="32.15" height="9.30" fill="#96c4e2"/>
<rect x="184.20" y="107.95" width="64.30" height="9.30" fill="#8ebfe0"/>
<rect x="248.50" y="107.95" width="25.72" height="9.30" fill="#96c4e2"/>
<rect x="274.22" y="107.95" width="6.43" height="9.30" fill="#a6cde7"/>
<rect x="280.65" y="107.95" width="32.15" height="9.30" fill="#96c4e2"/>
<rect x="184.20" y="117.25" width="64.30" height="9.30" fill="#8ebfe0"/>
<rect x="248.50" y="117.25" width="25.72" height="9.30" fill="#96c4e2"/>
<rect x="274.22" y="117.25" width="6.43" height="9.30" fill="#a6cde7"/>
<rect x="280.65" y="117.25" width="32.15" height="9.30" fill="#96c4e2"/>
<rect x="184.20" y="126.55" width="64.30" height="9.30" fill="#8ebfe0"/>
<rect x="248.50" y="126.55" width="25.72" height="9.30" fill="#96c4e2"/>
<rect x="274.22" y="126.55" width="6.43" height="9.30" fill="#a6cde7"/>
<rect x="280.65" y="126.55" width="32.15" height="9.30" fill="#96c4e2"/>
<rect x="184.20" y="135.85" width="64.30" height="9.30" fill="#8ebfe0"/>
<rect x="248.50" y="135.85" width="25.72" height="9.30" fill="#96c4e2"/>
<rect x="274.22" y="135.85" width="6.43" height="9.30" fill="#a6cde7"/>
<rect x="280.65" y="135.85" width="32.15" height="9.30" fill="#96c4e2"/>
<rect x="184.20" y="145.15" width="64.30" height="9.30" fill="#8ebfe0"/>
<rect x="248.50" y="145.15" width="25.72" height="9.30" fill="#96c4e2"/>
<rect x="274.22" y="145.15" width="6.43" height="9.30" fill="#a6cde7"/>
<rect x="280.65" y="145.15" width="32.15" height="9.30" fill="#96c4e2"/>
<rect x="184.20" y="154.45" width="64.30" height="9.30" fill="#8ebfe0"/>
<rect x="248.50" y="154.45" width="25.72" height="9.30" fill="#96c4e2"/>
<rect x="274.22" y="154.45" width="6.43" height="9.30" fill="#a6cde7"/>
<rect x="280.65" y="154.45" width="32.15" height="9.30" fill="#96c4e2"/>
<rect x="184.20" y="163.75" width="64.30" height="9.30" fill="#8ebfe0"/>
<rect x="248.50" y="163.75" width="25.72" height="9.30" fill="#96c4e2"/>
<rect x="274.22" y="163.75" width="6.43" height="9.30" fill="#a6cde7"/>
<rect x="280.65" y="163.75" width="32.15" height="9.30" fill="#96c4e2"/>
<rect x="184.20" y="173.05" width="64.30" height="9.30" fill="#8ebfe0"/>
<rect x="248.50" y="173.05" width="25.72" height="9.30" fill="#96c4e2"/>
<rect x="274.22" y="173.05" width="6.43" height="9.30" fill="#a6cde7"/>
<rect x="280.65" y="173.05" width="32.15" height="9.30" fill="#96c4e2"/>
<rect x="184.20" y="182.35" width="64.30" height="9.30" fill="#8ebfe0"/>
<rect x="248.50" y="182.35" width="25.72" height="9.30" fill="#96c4e2"/>
<rect x="274.22" y="182.35" width="6.43" height="9.30" fill="#a6cde7"/>
<rect x="280.65" y="182.35" width="32.15" height="9.30" fill="#96c4e2"/>
<rect x="184.20" y="191.65" width="64.30" height="9.30" fill="#8ebfe0"/>
<rect x="248.50" y="191.65" width="25.72" height="9.30" fill="#96c4e2"/>
<rect x="274.22" y="191.65" width="6.43" height="9.30" fill="#a6cde7"/>
<rect x="280.65" y="191.65" width="32.15" height="9.30" fill="#96c4e2"/>
<rect x="184.20" y="200.95" width="32.15" height="9.30" fill="#8ebfe0"/>
<rect x="216.35" y="200.95" width="32.15" height="9.30" fill="#feeaa4"/>
<rect x="248.50" y="200.95" width="25.72" height="9.30" fill="#96c4e2"/>
<rect x="274.22" y="200.95" width="6.43" height="9.30" fill="#a6cde7"/>
<rect x="280.65" y="200.95" width="32.15" height="9.30" fill="#96c4e2"/>
<rect x="184.20" y="210.25" width="64.30" height="9.30" fill="#8ebfe0"/>
<rect x="248.50" y="210.25" width="25.72" height="9.30" fill="#96c4e2"/>
<rect x="274.22" y="210.25" width="6.43" height="9.30" fill="#a6cde7"/>
<rect x="280.65" y="210.25" width="32.15" height="9.30" fill="#96c4e2"/>
<rect x="184.20" y="219.55" width="64.30" height="9.30" fill="#8ebfe0"/>
<rect x="248.50" y="219.55" width="25.72" height="9.30" fill="#96c4e2"/>
<rect x="274.22" y="219.55" width="6.43" height="9.30" fill="#a6cde7"/>
<rect x="280.65" y="219.55" width="32.15" height="9.30" fill="#96c4e2"/>
<rect x="184.20" y="228.85" width="64.30" height="9.30" fill="#8ebfe0"/>
<rect x="248.50" y="228.85" width="25.72" height="9.30" fill="#96c4e2"/>
<rect x="274.22" y="228.85" width="6.43" height="9.30" fill="#a6cde7"/>
<rect x="280.65" y="228.85" width="32.15" height="9.30" fill="#96c4e2"/>
<rect x="184.20" y="238.15" width="64.30" height="9.30" fill="#8ebfe0"/>
<rect x="248.50" y="238.15" width="25.72" height="9.30" fill="#96c4e2"/>
<rect x="274.22" y="238.15" width="6.43" height="9.30" fill="#a6cde7"/>
<rect x="280.65" y="238.15" width="32.15" height="9.30" fill="#96c4e2"/>
<rect x="184.20" y="247.45" width="6.43" height="9.30" fill="#ea6643"/>
<rect x="190.63" y="247.45" width="6.43" height="9.30" fill="#f58a55"/>
<rect x="197.06" y="247.45" width="6.43" height="9.30" fill="#ea6643"/>
<rect x="203.49" y="247.45" width="6.43" height="9.30" fill="#da4232"/>
<rect x="209.92" y="247.45" width="6.43" height="9.30" fill="#ea6643"/>
<rect x="216.35" y="247.45" width="12.86" height="9.30" fill="#fbb06c"/>
<rect x="229.21" y="247.45" width="6.43" height="9.30" fill="#fcd48c"/>
<rect x="235.64" y="247.45" width="12.86" height="9.30" fill="#fbb06c"/>
<rect x="248.50" y="247.45" width="12.86" height="9.30" fill="#ea6643"/>
<rect x="261.36" y="247.45" width="6.43" height="9.30" fill="#f58a55"/>
<rect x="267.79" y="247.45" width="19.29" height="9.30" fill="#ea6643"/>
<rect x="287.08" y="247.45" width="6.43" height="9.30" fill="#f58a55"/>
<rect x="293.51" y="247.45" width="6.43" height="9.30" fill="#ea6643"/>
<rect x="299.94" y="247.45" width="12.86" height="9.30" fill="#da4232"/>
<rect x="184.20" y="256.75" width="6.43" height="9.30" fill="#ea6643"/>
<rect x="190.63" y="256.75" width="6.43" height="9.30" fill="#da4232"/>
<rect x="197.06" y="256.75" width="6.43" height="9.30" fill="#ea6643"/>
<rect x="203.49" y="256.75" width="6.43" height="9.30" fill="#f58a55"/>
<rect x="209.92" y="256.75" width="6.43" height="9.30" fill="#ea6643"/>
<rect x="216.35" y="256.75" width="6.43" height="9.30" fill="#f58a55"/>
<rect x="222.78" y="256.75" width="6.43" height="9.30" fill="#da4232"/>
<rect x="229.21" y="256.75" width="6.43" height="9.30" fill="#ea6643"/>
<rect x="235.64" y="256.75" width="12.86" height="9.30" fill="#f58a55"/>
<rect x="248.50" y="256.75" width="6.43" height="9.30" fill="#ea6643"/>
<rect x="254.93" y="256.75" width="12.86" height="9.30" fill="#da4232"/>
<rect x="267.79" y="256.75" width="6.43" height="9.30" fill="#ea6643"/>
<rect x="274.22" y="256.75" width="6.43" height="9.30" fill="#da4232"/>
<rect x="280.65" y="256.75" width="6.43" height="9.30" fill="#ea6643"/>
<rect x="287.08" y="256.75" width="6.43" height="9.30" fill="#da4232"/>
<rect x="293.51" y="256.75" width="6.43" height="9.30" fill="#ea6643"/>
<rect x="299.94" y="256.75" width="6.43" height="9.30" fill="#da4232"/>
<rect x="306.37" y="256.75" width="6.43" height="9.30" fill="#ea6643"/>
<rect x="184.20" y="266.05" width="6.43" height="9.30" fill="#f58a55"/>
<rect x="190.63" y="266.05" width="6.43" height="9.30" fill="#ea6643"/>
<rect x="197.06" y="266.05" width="6.43" height="9.30" fill="#f58a55"/>
<rect x="203.49" y="266.05" width="6.43" height="9.30" fill="#fbb06c"/>
<rect x="209.92" y="266.05" width="6.43" height="9.30" fill="#f58a55"/>
<rect x="216.35" y="266.05" width="12.86" height="9.30" fill="#ea6643"/>
<rect x="229.21" y="266.05" width="12.86" height="9.30" fill="#f58a55"/>
<rect x="242.07" y="266.05" width="6.43" height="9.30" fill="#fbb06c"/>
<rect x="248.50" y="266.05" width="6.43" height="9.30" fill="#f58a55"/>
<rect x="254.93" y="266.05" width="6.43" height="9.30" fill="#ea6643"/>
<rect x="261.36" y="266.05" width="6.43" height="9.30" fill="#da4232"/>
<rect x="267.79" y="266.05" width="6.43" height="9.30" fill="#fbb06c"/>
<rect x="274.22" y="266.05" width="6.43" height="9.30" fill="#ea6643"/>
<rect x="280.65" y="266.05" width="6.43" height="9.30" fill="#f58a55"/>
<rect x="287.08" y="266.05" width="12.86" height="9.30" fill="#ea6643"/>
<rect x="299.94" y="266.05" width="12.86" height="9.30" fill="#fbb06c"/>
<rect x="184.20" y="275.35" width="6.43" height="9.30" fill="#feeaa4"/>
<rect x="190.63" y="275.35" width="6.43" height="9.30" fill="#fcd48c"/>
<rect x="197.06" y="275.35" width="6.43" height="9.30" fill="#f58a55"/>
<rect x="203.49" y="275.35" width="6.43" height="9.30" fill="#fef5ba"/>
<rect x="209.92" y="275.35" width="6.43" height="9.30" fill="#f58a55"/>
<rect x="216.35" y="275.35" width="12.86" height="9.30" fill="#fbb06c"/>
<rect x="229.21" y="275.35" width="6.43" height="9.30" fill="#fcd48c"/>
<rect x="235.64" y="275.35" width="6.43" height="9.30" fill="#fbb06c"/>
<rect x="242.07" y="275.35" width="6.43" height="9.30" fill="#f58a55"/>
<rect x="248.50" y="275.35" width="19.29" height="9.30" fill="#fbb06c"/>
<rect x="267.79" y="275.35" width="6.43" height="9.30" fill="#feeaa4"/>
<rect x="274.22" y="275.35" width="6.43" height="9.30" fill="#da4232"/>
<rect x="280.65" y="275.35" width="25.72" height="9.30" fill="#fbb06c"/>
<rect x="306.37" y="275.35" width="6.43" height="9.30" fill="#f58a55"/>
<rect x="184.20" y="284.65" width="6.43" height="9.30" fill="#fbb06c"/>
<rect x="190.63" y="284.65" width="12.86" height="9.30" fill="#feeaa4"/>
<rect x="203.49" y="284.65" width="6.43" height="9.30" fill="#f58a55"/>
<rect x="209.92" y="284.65" width="12.86" height="9.30" fill="#fbb06c"/>
<rect x="222.78" y="284.65" width="6.43" height="9.30" fill="#feeaa4"/>
<rect x="229.21" y="284.65" width="6.43" height="9.30" fill="#fcd48c"/>
<rect x="235.64" y="284.65" width="6.43" height="9.30" fill="#ea6643"/>
<rect x="242.07" y="284.65" width="6.43" height="9.30" fill="#fbb06c"/>
<rect x="248.50" y="284.65" width="6.43" height="9.30" fill="#f58a55"/>
<rect x="254.93" y="284.65" width="19.29" height="9.30" fill="#fbb06c"/>
<rect x="274.22" y="284.65" width="6.43" height="9.30" fill="#da4232"/>
<rect x="280.65" y="284.65" width="6.43" height="9.30" fill="#fbb06c"/>
<rect x="287.08" y="284.65" width="6.43" height="9.30" fill="#fef5ba"/>
<rect x="293.51" y="284.65" width="6.43" height="9.30" fill="#fbb06c"/>
<rect x="299.94" y="284.65" width="6.43" height="9.30" fill="#ea6643"/>
<rect x="306.37" y="284.65" width="6.43" height="9.30" fill="#f58a55"/>
<rect x="184.20" y="293.95" width="6.43" height="9.30" fill="#ea6643"/>
<rect x="190.63" y="293.95" width="6.43" height="9.30" fill="#f58a55"/>
<rect x="197.06" y="293.95" width="19.29" height="9.30" fill="#ea6643"/>
<rect x="216.35" y="293.95" width="6.43" height="9.30" fill="#f58a55"/>
<rect x="222.78" y="293.95" width="6.43" height="9.30" fill="#fbb06c"/>
<rect x="229.21" y="293.95" width="19.29" height="9.30" fill="#f58a55"/>
<rect x="248.50" y="293.95" width="12.86" height="9.30" fill="#ea6643"/>
<rect x="261.36" y="293.95" width="6.43" height="9.30" fill="#f58a55"/>
<rect x="267.79" y="293.95" width="6.43" height="9.30" fill="#da4232"/>
<rect x="274.22" y="293.95" width="12.86" height="9.30" fill="#ea6643"/>
<rect x="287.08" y="293.95" width="25.72" height="9.30" fill="#f58a55"/>
<rect x="184.20" y="303.25" width="6.43" height="9.30" fill="#fbb06c"/>
<rect x="190.63" y="303.25" width="6.43" height="9.30" fill="#f58a55"/>
<rect x="197.06" y="303.25" width="6.43" height="9.30" fill="#fbb06c"/>
<rect x="203.49" y="303.25" width="6.43" height="9.30" fill="#fcd48c"/>
<rect x="209.92" y="303.25" width="6.43" height="9.30" fill="#fbb06c"/>
<rect x="216.35" y="303.25" width="6.43" height="9.30" fill="#f58a55"/>
<rect x="222.78" y="303.25" width="6.43" height="9.30" fill="#ea6643"/>
<rect x="229.21" y="303.25" width="25.72" height="9.30" fill="#fbb06c"/>
<rect x="254.93" y="303.25" width="12.86" height="9.30" fill="#ea6643"/>
<rect x="267.79" y="303.25" width="19.29" height="9.30" fill="#fbb06c"/>
<rect x="287.08" y="303.25" width="6.43" height="9.30" fill="#ea6643"/>
<rect x="293.51" y="303.25" width="6.43" height="9.30" fill="#fbb06c"/>
<rect x="299.94" y="303.25" width="12.86" height="9.30" fill="#fcd48c"/>
<rect x="184.20" y="312.55" width="6.43" height="9.30" fill="#f58a55"/>
<rect x="190.63" y="312.55" width="32.15" height="9.30" fill="#fbb06c"/>
<rect x="222.78" y="312.55" width="25.72" height="9.30" fill="#fcd48c"/>
<rect x="248.50" y="312.55" width="6.43" height="9.30" fill="#f58a55"/>
<rect x="254.93" y="312.55" width="6.43" height="9.30" fill="#fbb06c"/>
<rect x="261.36" y="312.55" width="6.43" height="9.30" fill="#f58a55"/>
<rect x="267.79" y="312.55" width="12.86" height="9.30" fill="#fbb06c"/>
<rect x="280.65" y="312.55" width="12.86" height="9.30" fill="#fcd48c"/>
<rect x="293.51" y="312.55" width="6.43" height="9.30" fill="#fbb06c"/>
<rect x="299.94" y="312.55" width="12.86" height="9.30" fill="#fcd48c"/>
<rect x="184.20" y="321.85" width="6.43" height="9.30" fill="#feeaa4"/>
<rect x="190.63" y="321.85" width="6.43" height="9.30" fill="#fbb06c"/>
<rect x="197.06" y="321.85" width="6.43" height="9.30" fill="#fef5ba"/>
<rect x="203.49" y="321.85" width="12.86" height="9.30" fill="#feeaa4"/>
<rect x="216.35" y="321.85" width="6.43" height="9.30" fill="#eef6e6"/>
<rect x="222.78" y="321.85" width="6.43" height="9.30" fill="#fef5ba"/>
<rect x="229.21" y="321.85" width="6.43" height="9.30" fill="#eef6e6"/>
<rect x="235.64" y="321.85" width="6.43" height="9.30" fill="#fbf9d2"/>
<rect x="242.07" y="321.85" width="12.86" height="9.30" fill="#fef5ba"/>
<rect x="254.93" y="321.85" width="6.43" height="9.30" fill="#fbb06c"/>
<rect x="261.36" y="321.85" width="25.72" height="9.30" fill="#fef5ba"/>
<rect x="287.08" y="321.85" width="6.43" height="9.30" fill="#fcd48c"/>
<rect x="293.51" y="321.85" width="19.29" height="9.30" fill="#fef5ba"/>
<rect x="184.20" y="331.15" width="32.15" height="9.30" fill="#fef5ba"/>
<rect x="216.35" y="331.15" width="6.43" height="9.30" fill="#fbf9d2"/>
<rect x="222.78" y="331.15" width="6.43" height="9.30" fill="#fef5ba"/>
<rect x="229.21" y="331.15" width="6.43" height="9.30" fill="#fbf9d2"/>
<rect x="235.64" y="331.15" width="25.72" height="9.30" fill="#fef5ba"/>
<rect x="261.36" y="331.15" width="6.43" height="9.30" fill="#feeaa4"/>
<rect x="267.79" y="331.15" width="32.15" height="9.30" fill="#fef5ba"/>
<rect x="299.94" y="331.15" width="6.43" height="9.30" fill="#fbf9d2"/>
<rect x="306.37" y="331.15" width="6.43" height="9.30" fill="#fef5ba"/>
<rect x="184.20" y="340.45" width="6.43" height="9.30" fill="#fcd48c"/>
<rect x="190.63" y="340.45" width="6.43" height="9.30" fill="#fbb06c"/>
<rect x="197.06" y="340.45" width="115.74" height="9.30" fill="#fcd48c"/>
<rect x="184.20" y="349.75" width="6.43" height="9.30" fill="#fbb06c"/>
<rect x="190.63" y="349.75" width="6.43" height="9.30" fill="#fef5ba"/>
<rect x="197.06" y="349.75" width="19.29" height="9.30" fill="#feeaa4"/>
<rect x="216.35" y="349.75" width="6.43" height="9.30" fill="#ea6643"/>
<rect x="222.78" y="349.75" width="12.86" height="9.30" fill="#f58a55"/>
<rect x="235.64" y="349.75" width="6.43" height="9.30" fill="#fbb06c"/>
<rect x="242.07" y="349.75" width="6.43" height="9.30" fill="#f58a55"/>
<rect x="248.50" y="349.75" width="12.86" height="9.30" fill="#fef5ba"/>
<rect x="261.36" y="349.75" width="6.43" height="9.30" fill="#fbf9d2"/>
<rect x="267.79" y="349.75" width="12.86" height="9.30" fill="#fef5ba"/>
<rect x="280.65" y="349.75" width="6.43" height="9.30" fill="#ea6643"/>
<rect x="287.08" y="349.75" width="25.72" height="9.30" fill="#fef5ba"/>
<rect x="184.20" y="359.05" width="12.86" height="9.30" fill="#fcd48c"/>
<rect x="197.06" y="359.05" width="6.43" height="9.30" fill="#fbb06c"/>
<rect x="203.49" y="359.05" width="12.86" height="9.30" fill="#feeaa4"/>
<rect x="216.35" y="359.05" width="6.43" height="9.30" fill="#fef5ba"/>
<rect x="222.78" y="359.05" width="12.86" height="9.30" fill="#feeaa4"/>
<rect x="235.64" y="359.05" width="6.43" height="9.30" fill="#fef5ba"/>
<rect x="242.07" y="359.05" width="6.43" height="9.30" fill="#feeaa4"/>
<rect x="248.50" y="359.05" width="19.29" height="9.30" fill="#fcd48c"/>
<rect x="267.79" y="359.05" width="12.86" height="9.30" fill="#fbb06c"/>
<rect x="280.65" y="359.05" width="12.86" height="9.30" fill="#fcd48c"/>
<rect x="293.51" y="359.05" width="6.43" height="9.30" fill="#fbb06c"/>
<rect x="299.94" y="359.05" width="12.86" height="9.30" fill="#fcd48c"/>
<rect x="184.20" y="368.35" width="6.43" height="9.30" fill="#fcd48c"/>
<rect x="190.63" y="368.35" width="12.86" height="9.30" fill="#fbb06c"/>
<rect x="203.49" y="368.35" width="6.43" height="9.30" fill="#fcd48c"/>
<rect x="209.92" y="368.35" width="6.43" height="9.30" fill="#f58a55"/>
<rect x="216.35" y="368.35" width="6.43" height="9.30" fill="#ea6643"/>
<rect x="222.78" y="368.35" width="6.43" height="9.30" fill="#feeaa4"/>
<rect x="229.21" y="368.35" width="6.43" height="9.30" fill="#fbb06c"/>
<rect x="235.64" y="368.35" width="6.43" height="9.30" fill="#fcd48c"/>
<rect x="242.07" y="368.35" width="6.43" height="9.30" fill="#fbb06c"/>
<rect x="248.50" y="368.35" width="45.01" height="9.30" fill="#fcd48c"/>
<rect x="293.51" y="368.35" width="19.29" height="9.30" fill="#fbb06c"/>
<rect x="184.20" y="377.65" width="6.43" height="9.30" fill="#fcd48c"/>
<rect x="190.63" y="377.65" width="6.43" height="9.30" fill="#fbb06c"/>
<rect x="197.06" y="377.65" width="12.86" height="9.30" fill="#fcd48c"/>
<rect x="209.92" y="377.65" width="12.86" height="9.30" fill="#fbb06c"/>
<rect x="222.78" y="377.65" width="6.43" height="9.30" fill="#fcd48c"/>
<rect x="229.21" y="377.65" width="6.43" height="9.30" fill="#fbb06c"/>
<rect x="235.64" y="377.65" width="6.43" height="9.30" fill="#fcd48c"/>
<rect x="242.07" y="377.65" width="6.43" height="9.30" fill="#fbb06c"/>
<rect x="248.50" y="377.65" width="12.86" height="9.30" fill="#fcd48c"/>
<rect x="261.36" y="377.65" width="19.29" height="9.30" fill="#fbb06c"/>
<rect x="280.65" y="377.65" width="12.86" height="9.30" fill="#feeaa4"/>
<rect x="293.51" y="377.65" width="19.29" height="9.30" fill="#fcd48c"/>
<rect x="184.20" y="386.95" width="6.43" height="9.30" fill="#fcd48c"/>
<rect x="190.63" y="386.95" width="6.43" height="9.30" fill="#fef5ba"/>
<rect x="197.06" y="386.95" width="12.86" height="9.30" fill="#fbf9d2"/>
<rect x="209.92" y="386.95" width="6.43" height="9.30" fill="#fef5ba"/>
<rect x="216.35" y="386.95" width="6.43" height="9.30" fill="#fbb06c"/>
<rect x="222.78" y="386.95" width="6.43" height="9.30" fill="#fef5ba"/>
<rect x="229.21" y="386.95" width="6.43" height="9.30" fill="#feeaa4"/>
<rect x="235.64" y="386.95" width="6.43" height="9.30" fill="#fef5ba"/>
<rect x="242.07" y="386.95" width="6.43" height="9.30" fill="#fcd48c"/>
<rect x="248.50" y="386.95" width="6.43" height="9.30" fill="#fbb06c"/>
<rect x="254.93" y="386.95" width="6.43" height="9.30" fill="#feeaa4"/>
<rect x="261.36" y="386.95" width="6.43" height="9.30" fill="#f58a55"/>
<rect x="267.79" y="386.95" width="12.86" height="9.30" fill="#fbb06c"/>
<rect x="280.65" y="386.95" width="6.43" height="9.30" fill="#feeaa4"/>
<rect x="287.08" y="386.95" width="25.72" height="9.30" fill="#fcd48c"/>
<rect x="184.20" y="396.25" width="6.43" height="9.30" fill="#fef5ba"/>
<rect x="190.63" y="396.25" width="12.86" height="9.30" fill="#fcd48c"/>
<rect x="203.49" y="396.25" width="12.86" height="9.30" fill="#fef5ba"/>
<rect x="216.35" y="396.25" width="19.29" height="9.30" fill="#fcd48c"/>
<rect x="235.64" y="396.25" width="6.43" height="9.30" fill="#feeaa4"/>
<rect x="242.07" y="396.25" width="6.43" height="9.30" fill="#fcd48c"/>
<rect x="248.50" y="396.25" width="32.15" height="9.30" fill="#8ebfe0"/>
<rect x="280.65" y="396.25" width="6.43" height="9.30" fill="#eef6e6"/>
<rect x="287.08" y="396.25" width="6.43" height="9.30" fill="#feeaa4"/>
<rect x="293.51" y="396.25" width="6.43" height="9.30" fill="#f58a55"/>
<rect x="299.94" y="396.25" width="6.43" height="9.30" fill="#fef5ba"/>
<rect x="306.37" y="396.25" width="6.43" height="9.30" fill="#feeaa4"/>
<rect x="184.20" y="405.55" width="6.43" height="9.30" fill="#feeaa4"/>
<rect x="190.63" y="405.55" width="6.43" height="9.30" fill="#fcd48c"/>
<rect x="197.06" y="405.55" width="6.43" height="9.30" fill="#fef5ba"/>
<rect x="203.49" y="405.55" width="6.43" height="9.30" fill="#fbb06c"/>
<rect x="209.92" y="405.55" width="12.86" height="9.30" fill="#eef6e6"/>
<rect x="222.78" y="405.55" width="25.72" height="9.30" fill="#f58a55"/>
<rect x="248.50" y="405.55" width="19.29" height="9.30" fill="#fef5ba"/>
<rect x="267.79" y="405.55" width="6.43" height="9.30" fill="#fbb06c"/>
<rect x="274.22" y="405.55" width="6.43" height="9.30" fill="#eef6e6"/>
<rect x="280.65" y="405.55" width="6.43" height="9.30" fill="#f58a55"/>
<rect x="287.08" y="405.55" width="6.43" height="9.30" fill="#ea6643"/>
<rect x="293.51" y="405.55" width="6.43" height="9.30" fill="#fef5ba"/>
<rect x="299.94" y="405.55" width="6.43" height="9.30" fill="#feeaa4"/>
<rect x="306.37" y="405.55" width="6.43" height="9.30" fill="#fcd48c"/>
<rect x="184.20" y="414.85" width="6.43" height="9.30" fill="#fef5ba"/>
<rect x="190.63" y="414.85" width="6.43" height="9.30" fill="#feeaa4"/>
<rect x="197.06" y="414.85" width="6.43" height="9.30" fill="#fbb06c"/>
<rect x="203.49" y="414.85" width="6.43" height="9.30" fill="#feeaa4"/>
<rect x="209.92" y="414.85" width="6.43" height="9.30" fill="#fcd48c"/>
<rect x="216.35" y="414.85" width="6.43" height="9.30" fill="#fbb06c"/>
<rect x="222.78" y="414.85" width="12.86" height="9.30" fill="#fcd48c"/>
<rect x="235.64" y="414.85" width="6.43" height="9.30" fill="#feeaa4"/>
<rect x="242.07" y="414.85" width="19.29" height="9.30" fill="#fcd48c"/>
<rect x="261.36" y="414.85" width="6.43" height="9.30" fill="#fbb06c"/>
<rect x="267.79" y="414.85" width="12.86" height="9.30" fill="#feeaa4"/>
<rect x="280.65" y="414.85" width="12.86" height="9.30" fill="#fcd48c"/>
<rect x="293.51" y="414.85" width="6.43" height="9.30" fill="#fbb06c"/>
<rect x="299.94" y="414.85" width="6.43" height="9.30" fill="#feeaa4"/>
<rect x="306.37" y="414.85" width="6.43" height="9.30" fill="#fcd48c"/>
<rect x="184.20" y="424.15" width="6.43" height="9.30" fill="#f58a55"/>
<rect x="190.63" y="424.15" width="6.43" height="9.30" fill="#fef5ba"/>
<rect x="197.06" y="424.15" width="6.43" height="9.30" fill="#fcd48c"/>
<rect x="203.49" y="424.15" width="6.43" height="9.30" fill="#fbb06c"/>
<rect x="209.92" y="424.15" width="12.86" height="9.30" fill="#fef5ba"/>
<rect x="222.78" y="424.15" width="12.86" height="9.30" fill="#fbb06c"/>
<rect x="235.64" y="424.15" width="6.43" height="9.30" fill="#fcd48c"/>
<rect x="242.07" y="424.15" width="6.43" height="9.30" fill="#fbb06c"/>
<rect x="248.50" y="424.15" width="6.43" height="9.30" fill="#fcd48c"/>
<rect x="254.93" y="424.15" width="12.86" height="9.30" fill="#feeaa4"/>
<rect x="267.79" y="424.15" width="6.43" height="9.30" fill="#fbb06c"/>
<rect x="274.22" y="424.15" width="6.43" height="9.30" fill="#fcd48c"/>
<rect x="280.65" y="424.15" width="25.72" height="9.30" fill="#fef5ba"/>
<rect x="306.37" y="424.15" width="6.43" height="9.30" fill="#feeaa4"/>
<rect x="184.20" y="433.45" width="6.43" height="9.30" fill="#feeaa4"/>
<rect x="190.63" y="433.45" width="12.86" height="9.30" fill="#fcd48c"/>
<rect x="203.49" y="433.45" width="6.43" height="9.30" fill="#fbb06c"/>
<rect x="209.92" y="433.45" width="12.86" height="9.30" fill="#fcd48c"/>
<rect x="222.78" y="433.45" width="25.72" height="9.30" fill="#fbb06c"/>
<rect x="248.50" y="433.45" width="19.29" height="9.30" fill="#fcd48c"/>
<rect x="267.79" y="433.45" width="6.43" height="9.30" fill="#ea6643"/>
<rect x="274.22" y="433.45" width="6.43" height="9.30" fill="#fbb06c"/>
<rect x="280.65" y="433.45" width="19.29" height="9.30" fill="#fcd48c"/>
<rect x="299.94" y="433.45" width="6.43" height="9.30" fill="#fbb06c"/>
<rect x="306.37" y="433.45" width="6.43" height="9.30" fill="#fcd48c"/>
<rect x="184.20" y="442.75" width="6.43" height="9.30" fill="#ea6643"/>
<rect x="190.63" y="442.75" width="6.43" height="9.30" fill="#f58a55"/>
<rect x="197.06" y="442.75" width="12.86" height="9.30" fill="#ea6643"/>
<rect x="209.92" y="442.75" width="6.43" height="9.30" fill="#f58a55"/>
<rect x="216.35" y="442.75" width="6.43" height="9.30" fill="#ea6643"/>
<rect x="222.78" y="442.75" width="6.43" height="9.30" fill="#fbb06c"/>
<rect x="229.21" y="442.75" width="12.86" height="9.30" fill="#ea6643"/>
<rect x="242.07" y="442.75" width="6.43" height="9.30" fill="#fbb06c"/>
<rect x="248.50" y="442.75" width="6.43" height="9.30" fill="#ea6643"/>
<rect x="254.93" y="442.75" width="6.43" height="9.30" fill="#f58a55"/>
<rect x="261.36" y="442.75" width="6.43" height="9.30" fill="#ea6643"/>
<rect x="267.79" y="442.75" width="6.43" height="9.30" fill="#f58a55"/>
<rect x="274.22" y="442.75" width="12.86" height="9.30" fill="#ea6643"/>
<rect x="287.08" y="442.75" width="25.72" height="9.30" fill="#fbb06c"/>
<rect x="184.20" y="452.05" width="6.43" height="9.30" fill="#fcd48c"/>
<rect x="190.63" y="452.05" width="6.43" height="9.30" fill="#fbb06c"/>
<rect x="197.06" y="452.05" width="12.86" height="9.30" fill="#feeaa4"/>
<rect x="209.92" y="452.05" width="12.86" height="9.30" fill="#fcd48c"/>
<rect x="222.78" y="452.05" width="6.43" height="9.30" fill="#feeaa4"/>
<rect x="229.21" y="452.05" width="6.43" height="9.30" fill="#fbb06c"/>
<rect x="235.64" y="452.05" width="6.43" height="9.30" fill="#feeaa4"/>
<rect x="242.07" y="452.05" width="12.86" height="9.30" fill="#fcd48c"/>
<rect x="254.93" y="452.05" width="12.86" height="9.30" fill="#fbb06c"/>
<rect x="267.79" y="452.05" width="6.43" height="9.30" fill="#fef5ba"/>
<rect x="274.22" y="452.05" width="6.43" height="9.30" fill="#feeaa4"/>
<rect x="280.65" y="452.05" width="12.86" height="9.30" fill="#fcd48c"/>
<rect x="293.51" y="452.05" width="6.43" height="9.30" fill="#feeaa4"/>
<rect x="299.94" y="452.05" width="6.43" height="9.30" fill="#fcd48c"/>
<rect x="306.37" y="452.05" width="6.43" height="9.30" fill="#fbb06c"/>
<rect x="184.20" y="461.35" width="6.43" height="9.30" fill="#feeaa4"/>
<rect x="190.63" y="461.35" width="6.43" height="9.30" fill="#fbb06c"/>
<rect x="197.06" y="461.35" width="12.86" height="9.30" fill="#fcd48c"/>
<rect x="209.92" y="461.35" width="6.43" height="9.30" fill="#fbb06c"/>
<rect x="216.35" y="461.35" width="6.43" height="9.30" fill="#feeaa4"/>
<rect x="222.78" y="461.35" width="12.86" height="9.30" fill="#fcd48c"/>
<rect x="235.64" y="461.35" width="6.43" height="9.30" fill="#feeaa4"/>
<rect x="242.07" y="461.35" width="6.43" height="9.30" fill="#fbb06c"/>
<rect x="248.50" y="461.35" width="6.43" height="9.30" fill="#feeaa4"/>
<rect x="254.93" y="461.35" width="12.86" height="9.30" fill="#fcd48c"/>
<rect x="267.79" y="461.35" width="6.43" height="9.30" fill="#fef5ba"/>
<rect x="274.22" y="461.35" width="6.43" height="9.30" fill="#feeaa4"/>
<rect x="280.65" y="461.35" width="6.43" height="9.30" fill="#fcd48c"/>
<rect x="287.08" y="461.35" width="6.43" height="9.30" fill="#fbb06c"/>
<rect x="293.51" y="461.35" width="6.43" height="9.30" fill="#fcd48c"/>
<rect x="299.94" y="461.35" width="6.43" height="9.30" fill="#fbb06c"/>
<rect x="306.37" y="461.35" width="6.43" height="9.30" fill="#fcd48c"/>
<path d="M53.40 5.65V470.65M59.83 5.65V470.65M66.26 5.65V470.65M72.69 5.65V470.65M79.12 5.65V470.65M85.55 5.65V470.65M91.98 5.65V470.65M98.41 5.65V470.65M104.84 5.65V470.65M111.27 5.65V470.65M117.70 5.65V470.65M124.13 5.65V470.65M130.56 5.65V470.65M136.99 5.65V470.65M143.42 5.65V470.65M149.85 5.65V470.65M156.28 5.65V470.65M162.71 5.65V470.65M169.14 5.65V470.65M175.57 5.65V470.65M182.00 5.65V470.65M53.40 5.65H182.00M53.40 14.95H182.00M53.40 24.25H182.00M53.40 33.55H182.00M53.40 42.85H182.00M53.40 52.15H182.00M53.40 61.45H182.00M53.40 70.75H182.00M53.40 80.05H182.00M53.40 89.35H182.00M53.40 98.65H182.00M53.40 107.95H182.00M53.40 117.25H182.00M53.40 126.55H182.00M53.40 135.85H182.00M53.40 145.15H182.00M53.40 154.45H182.00M53.40 163.75H182.00M53.40 173.05H182.00M53.40 182.35H182.00M53.40 191.65H182.00M53.40 200.95H182.00M53.40 210.25H182.00M53.40 219.55H182.00M53.40 228.85H182.00M53.40 238.15H182.00M53.40 247.45H182.00M53.40 256.75H182.00M53.40 266.05H182.00M53.40 275.35H182.00M53.40 284.65H182.00M53.40 293.95H182.00M53.40 303.25H182.00M53.40 312.55H182.00M53.40 321.85H182.00M53.40 331.15H182.00M53.40 340.45H182.00M53.40 349.75H182.00M53.40 359.05H182.00M53.40 368.35H182.00M53.40 377.65H182.00M53.40 386.95H182.00M53.40 396.25H182.00M53.40 405.55H182.00M53.40 414.85H182.00M53.40 424.15H182.00M53.40 433.45H182.00M53.40 442.75H182.00M53.40 452.05H182.00M53.40 461.35H182.00M53.40 470.65H182.00" stroke="#9d98ae" stroke-width="0.5" fill="none"/>
<path d="M184.20 5.65V470.65M190.63 5.65V470.65M197.06 5.65V470.65M203.49 5.65V470.65M209.92 5.65V470.65M216.35 5.65V470.65M222.78 5.65V470.65M229.21 5.65V470.65M235.64 5.65V470.65M242.07 5.65V470.65M248.50 5.65V470.65M254.93 5.65V470.65M261.36 5.65V470.65M267.79 5.65V470.65M274.22 5.65V470.65M280.65 5.65V470.65M287.08 5.65V470.65M293.51 5.65V470.65M299.94 5.65V470.65M306.37 5.65V470.65M312.80 5.65V470.65M184.20 5.65H312.80M184.20 14.95H312.80M184.20 24.25H312.80M184.20 33.55H312.80M184.20 42.85H312.80M184.20 52.15H312.80M184.20 61.45H312.80M184.20 70.75H312.80M184.20 80.05H312.80M184.20 89.35H312.80M184.20 98.65H312.80M184.20 107.95H312.80M184.20 117.25H312.80M184.20 126.55H312.80M184.20 135.85H312.80M184.20 145.15H312.80M184.20 154.45H312.80M184.20 163.75H312.80M184.20 173.05H312.80M184.20 182.35H312.80M184.20 191.65H312.80M184.20 200.95H312.80M184.20 210.25H312.80M184.20 219.55H312.80M184.20 228.85H312.80M184.20 238.15H312.80M184.20 247.45H312.80M184.20 256.75H312.80M184.20 266.05H312.80M184.20 275.35H312.80M184.20 284.65H312.80M184.20 293.95H312.80M184.20 303.25H312.80M184.20 312.55H312.80M184.20 321.85H312.80M184.20 331.15H312.80M184.20 340.45H312.80M184.20 349.75H312.80M184.20 359.05H312.80M184.20 368.35H312.80M184.20 377.65H312.80M184.20 386.95H312.80M184.20 396.25H312.80M184.20 405.55H312.80M184.20 414.85H312.80M184.20 424.15H312.80M184.20 433.45H312.80M184.20 442.75H312.80M184.20 452.05H312.80M184.20 461.35H312.80M184.20 470.65H312.80" stroke="#9d98ae" stroke-width="0.5" fill="none"/>
<rect x="44.30" y="5.65" width="7.20" height="9.30" fill="#a6cee3"/>
<rect x="44.30" y="14.95" width="7.20" height="9.30" fill="#fb9a99"/>
<rect x="44.30" y="24.25" width="7.20" height="9.30" fill="#cab2d6"/>
<rect x="44.30" y="33.55" width="7.20" height="9.30" fill="#cab2d6"/>
<rect x="44.30" y="42.85" width="7.20" height="9.30" fill="#cab2d6"/>
<rect x="44.30" y="52.15" width="7.20" height="9.30" fill="#b2df8a"/>
<rect x="44.30" y="61.45" width="7.20" height="9.30" fill="#cab2d6"/>
<rect x="44.30" y="70.75" width="7.20" height="9.30" fill="#b2df8a"/>
<rect x="44.30" y="80.05" width="7.20" height="9.30" fill="#a6cee3"/>
<rect x="44.30" y="89.35" width="7.20" height="9.30" fill="#cab2d6"/>
<rect x="44.30" y="98.65" width="7.20" height="9.30" fill="#33a02c"/>
<rect x="44.30" y="107.95" width="7.20" height="9.30" fill="#b2df8a"/>
<rect x="44.30" y="117.25" width="7.20" height="9.30" fill="#cab2d6"/>
<rect x="44.30" y="126.55" width="7.20" height="9.30" fill="#ff7f00"/>
<rect x="44.30" y="135.85" width="7.20" height="9.30" fill="#cab2d6"/>
<rect x="44.30" y="145.15" width="7.20" height="9.30" fill="#cab2d6"/>
<rect x="44.30" y="154.45" width="7.20" height="9.30" fill="#e31a1c"/>
<rect x="44.30" y="163.75" width="7.20" height="9.30" fill="#e31a1c"/>
<rect x="44.30" y="173.05" width="7.20" height="9.30" fill="#cab2d6"/>
<rect x="44.30" y="182.35" width="7.20" height="9.30" fill="#cab2d6"/>
<rect x="44.30" y="191.65" width="7.20" height="9.30" fill="#cab2d6"/>
<rect x="44.30" y="200.95" width="7.20" height="9.30" fill="#cab2d6"/>
<rect x="44.30" y="210.25" width="7.20" height="9.30" fill="#cab2d6"/>
<rect x="44.30" y="219.55" width="7.20" height="9.30" fill="#cab2d6"/>
<rect x="44.30" y="228.85" width="7.20" height="9.30" fill="#a6cee3"/>
<rect x="44.30" y="238.15" width="7.20" height="9.30" fill="#cab2d6"/>
<rect x="44.30" y="247.45" width="7.20" height="9.30" fill="#cab2d6"/>
<rect x="44.30" y="256.75" width="7.20" height="9.30" fill="#cab2d6"/>
<rect x="44.30" y="266.05" width="7.20" height="9.30" fill="#cab2d6"/>
<rect x="44.30" y="275.35" width="7.20" height="9.30" fill="#cab2d6"/>
<rect x="44.30" y="284.65" width="7.20" height="9.30" fill="#b2df8a"/>
<rect x="44.30" y="293.95" width="7.20" height="9.30" fill="#cab2d6"/>
<rect x="44.30" y="303.25" width="7.20" height="9.30" fill="#cab2d6"/>
<rect x="44.30" y="312.55" width="7.20" height="9.30" fill="#cab2d6"/>
<rect x="44.30" y="321.85" width="7.20" height="9.30" fill="#b2df8a"/>
<rect x="44.30" y="331.15" width="7.20" height="9.30" fill="#cab2d6"/>
<rect x="44.30" y="340.45" width="7.20" height="9.30" fill="#cab2d6"/>
<rect x="44.30" y="349.75" width="7.20" height="9.30" fill="#cab2d6"/>
<rect x="44.30" y="359.05" width="7.20" height="9.30" fill="#b2df8a"/>
<rect x="44.30" y="368.35" width="7.20" height="9.30" fill="#cab2d6"/>
<rect x="44.30" y="377.65" width="7.20" height="9.30" fill="#cab2d6"/>
<rect x="44.30" y="386.95" width="7.20" height="9.30" fill="#1f78b4"/>
<rect x="44.30" y="396.25" width="7.20" height="9.30" fill="#cab2d6"/>
<rect x="44.30" y="405.55" width="7.20" height="9.30" fill="#fdbf6f"/>
<rect x="44.30" y="414.85" width="7.20" height="9.30" fill="#cab2d6"/>
<rect x="44.30" y="424.15" width="7.20" height="9.30" fill="#fdbf6f"/>
<rect x="44.30" y="433.45" width="7.20" height="9.30" fill="#cab2d6"/>
<rect x="44.30" y="442.75" width="7.20" height="9.30" fill="#cab2d6"/>
<rect x="44.30" y="452.05" width="7.20" height="9.30" fill="#cab2d6"/>
<rect x="44.30" y="461.35" width="7.20" height="9.30" fill="#cab2d6"/>
<path d="M44.30 5.65H51.50M44.30 14.95H51.50M44.30 24.25H51.50M44.30 33.55H51.50M44.30 42.85H51.50M44.30 52.15H51.50M44.30 61.45H51.50M44.30 70.75H51.50M44.30 80.05H51.50M44.30 89.35H51.50M44.30 98.65H51.50M44.30 107.95H51.50M44.30 117.25H51.50M44.30 126.55H51.50M44.30 135.85H51.50M44.30 145.15H51.50M44.30 154.45H51.50M44.30 163.75H51.50M44.30 173.05H51.50M44.30 182.35H51.50M44.30 191.65H51.50M44.30 200.95H51.50M44.30 210.25H51.50M44.30 219.55H51.50M44.30 228.85H51.50M44.30 238.15H51.50M44.30 247.45H51.50M44.30 256.75H51.50M44.30 266.05H51.50M44.30 275.35H51.50M44.30 284.65H51.50M44.30 293.95H51.50M44.30 303.25H51.50M44.30 312.55H51.50M44.30 321.85H51.50M44.30 331.15H51.50M44.30 340.45H51.50M44.30 349.75H51.50M44.30 359.05H51.50M44.30 368.35H51.50M44.30 377.65H51.50M44.30 386.95H51.50M44.30 396.25H51.50M44.30 405.55H51.50M44.30 414.85H51.50M44.30 424.15H51.50M44.30 433.45H51.50M44.30 442.75H51.50M44.30 452.05H51.50M44.30 461.35H51.50M44.30 470.65H51.50M44.30 5.65V470.65M51.50 5.65V470.65" stroke="#a09cb0" stroke-width="0.35" fill="none"/>
<path d="M38.30 10.30H44.00M38.30 19.60H44.00M38.30 10.30V19.60M38.00 38.20H44.00M38.00 47.50H44.00M38.00 38.20V47.50M35.60 28.90H44.00M35.60 42.85H38.00M35.60 28.90V42.85M33.70 14.95H38.30M33.70 35.88H35.60M33.70 14.95V35.88M43.00 84.70H44.00M43.00 94.00H44.00M43.00 84.70V94.00M41.70 75.40H44.00M41.70 89.35H43.00M41.70 75.40V89.35M40.50 103.30H44.00M40.50 112.60H44.00M40.50 103.30V112.60M42.50 131.20H44.00M42.50 140.50H44.00M42.50 131.20V140.50M41.50 121.90H44.00M41.50 135.85H42.50M41.50 121.90V135.85M43.20 159.10H44.00M43.20 168.40H44.00M43.20 159.10V168.40M42.50 149.80H44.00M42.50 163.75H43.20M42.50 149.80V163.75M43.00 187.00H44.00M43.00 196.30H44.00M43.00 187.00V196.30M42.00 177.70H44.00M42.00 191.65H43.00M42.00 177.70V191.65M41.00 156.78H42.50M41.00 184.68H42.00M41.00 156.78V184.68M39.50 128.88H41.50M39.50 170.73H41.00M39.50 128.88V170.73M38.60 107.95H40.50M38.60 149.80H39.50M38.60 107.95V149.80M37.60 82.38H41.70M37.60 128.88H38.60M37.60 82.38V128.88M36.70 66.10H44.00M36.70 105.62H37.60M36.70 66.10V105.62M36.40 56.80H44.00M36.40 85.86H36.70M36.40 56.80V85.86M42.00 233.50H44.00M42.00 242.80H44.00M42.00 233.50V242.80M40.50 224.20H44.00M40.50 238.15H42.00M40.50 224.20V238.15M39.20 214.90H44.00M39.20 231.18H40.50M39.20 214.90V231.18M33.00 205.60H44.00M33.00 223.04H39.20M33.00 205.60V223.04M32.70 71.33H36.40M32.70 214.32H33.00M32.70 71.33V214.32M28.20 25.41H33.70M28.20 142.83H32.70M28.20 25.41V142.83M40.10 261.40H44.00M40.10 270.70H44.00M40.10 261.40V270.70M39.00 252.10H44.00M39.00 266.05H40.10M39.00 252.10V266.05M39.40 280.00H44.00M39.40 289.30H44.00M39.40 280.00V289.30M39.40 307.90H44.00M39.40 317.20H44.00M39.40 307.90V317.20M37.80 298.60H44.00M37.80 312.55H39.40M37.80 298.60V312.55M36.30 284.65H39.40M36.30 305.57H37.80M36.30 284.65V305.57M38.60 335.80H44.00M38.60 345.10H44.00M38.60 335.80V345.10M36.30 326.50H44.00M36.30 340.45H38.60M36.30 326.50V340.45M38.60 363.70H44.00M38.60 373.00H44.00M38.60 363.70V373.00M37.40 382.30H44.00M37.40 391.60H44.00M37.40 382.30V391.60M36.30 368.35H38.60M36.30 386.95H37.40M36.30 368.35V386.95M34.40 354.40H44.00M34.40 377.65H36.30M34.40 354.40V377.65M33.20 333.48H36.30M33.20 366.02H34.40M33.20 333.48V366.02M30.10 295.11H36.30M30.10 349.75H33.20M30.10 295.11V349.75M28.20 259.08H39.00M28.20 322.43H30.10M28.20 259.08V322.43M39.50 419.50H44.00M39.50 428.80H44.00M39.50 419.50V428.80M36.40 410.20H44.00M36.40 424.15H39.50M36.40 410.20V424.15M40.00 456.70H44.00M40.00 466.00H44.00M40.00 456.70V466.00M35.40 447.40H44.00M35.40 461.35H40.00M35.40 447.40V461.35M32.00 438.10H44.00M32.00 454.38H35.40M32.00 438.10V454.38M30.30 417.17H36.40M30.30 446.24H32.00M30.30 417.17V446.24M25.20 400.90H44.00M25.20 431.71H30.30M25.20 400.90V431.71M16.50 290.75H28.20M16.50 416.30H25.20M16.50 290.75V416.30M8.20 84.12H28.20M8.20 353.53H16.50M8.20 84.12V353.53" stroke="#505050" stroke-width="0.9" fill="none" stroke-linecap="square"/>
<text x="315" y="12.40" font-size="7.2" fill="#000" stroke="#000" stroke-width="0.04"><tspan font-style="italic">Bryobacter</tspan></text>
<text x="315" y="21.70" font-size="7.2" fill="#000" stroke="#000" stroke-width="0.04"><tspan font-style="italic">Limnothrix</tspan></text>
<text x="315" y="31.00" font-size="7.2" fill="#000" stroke="#000" stroke-width="0.04"><tspan font-style="italic">Ideonella</tspan></text>
<text x="315" y="40.30" font-size="7.2" fill="#000" stroke="#000" stroke-width="0.04">Uncultured <tspan font-style="italic">Rhizobiales_Incertae_Sadis</tspan></text>
<text x="315" y="49.60" font-size="7.2" fill="#000" stroke="#000" stroke-width="0.04"><tspan font-style="italic">Hyphomicrobium</tspan>*</text>
<text x="315" y="58.90" font-size="7.2" fill="#000" stroke="#000" stroke-width="0.04"><tspan font-style="italic">Aurantisolimonas</tspan>*</text>
<text x="315" y="68.20" font-size="7.2" fill="#000" stroke="#000" stroke-width="0.04"><tspan font-style="italic">Buchnera</tspan>*</text>
<text x="315" y="77.50" font-size="7.2" fill="#000" stroke="#000" stroke-width="0.04"><tspan font-style="italic">Emticicia</tspan>*</text>
<text x="315" y="86.80" font-size="7.2" fill="#000" stroke="#000" stroke-width="0.04">Unclassified <tspan font-style="italic">Acidobacteriae</tspan>*</text>
<text x="315" y="96.10" font-size="7.2" fill="#000" stroke="#000" stroke-width="0.04"><tspan font-style="italic">Methylotenera</tspan>*</text>
<text x="315" y="105.40" font-size="7.2" fill="#000" stroke="#000" stroke-width="0.04">Uncultured <tspan font-style="italic">Roseiflexaceae</tspan>*</text>
<text x="315" y="114.70" font-size="7.2" fill="#000" stroke="#000" stroke-width="0.04">Uncultured <tspan font-style="italic">Saprospiraceae</tspan>*</text>
<text x="315" y="124.00" font-size="7.2" fill="#000" stroke="#000" stroke-width="0.04">oc32*</text>
<text x="315" y="133.30" font-size="7.2" fill="#000" stroke="#000" stroke-width="0.04"><tspan font-style="italic">Gemmatimonas</tspan>*</text>
<text x="315" y="142.60" font-size="7.2" fill="#000" stroke="#000" stroke-width="0.04"><tspan font-style="italic">Blastomonas</tspan>*</text>
<text x="315" y="151.90" font-size="7.2" fill="#000" stroke="#000" stroke-width="0.04"><tspan font-style="italic">Propionivibrio</tspan>*</text>
<text x="315" y="161.20" font-size="7.2" fill="#000" stroke="#000" stroke-width="0.04">Unclassified <tspan font-style="italic">Geobacteraceae</tspan>*</text>
<text x="315" y="170.50" font-size="7.2" fill="#000" stroke="#000" stroke-width="0.04"><tspan font-style="italic">Desulfomicrobium</tspan>*</text>
<text x="315" y="179.80" font-size="7.2" fill="#000" stroke="#000" stroke-width="0.04"><tspan font-style="italic">Rhizobacter</tspan>*</text>
<text x="315" y="189.10" font-size="7.2" fill="#000" stroke="#000" stroke-width="0.04"><tspan font-style="italic">Methylocystis</tspan>*</text>
<text x="315" y="198.40" font-size="7.2" fill="#000" stroke="#000" stroke-width="0.04"><tspan font-style="italic">Allochromatium</tspan>*</text>
<text x="315" y="207.70" font-size="7.2" fill="#000" stroke="#000" stroke-width="0.04"><tspan font-style="italic">Acinetobacter</tspan>*</text>
<text x="315" y="217.00" font-size="7.2" fill="#000" stroke="#000" stroke-width="0.04"><tspan font-style="italic">Rhodobacter</tspan>*</text>
<text x="315" y="226.30" font-size="7.2" fill="#000" stroke="#000" stroke-width="0.04"><tspan font-style="italic">Hydrogenophaga</tspan>*</text>
<text x="315" y="235.60" font-size="7.2" fill="#000" stroke="#000" stroke-width="0.04">Unclassified <tspan font-style="italic">Blastocatellaceae</tspan>*</text>
<text x="315" y="244.90" font-size="7.2" fill="#000" stroke="#000" stroke-width="0.04"><tspan font-style="italic">Porphyrobacter</tspan>*</text>
<text x="315" y="254.20" font-size="7.2" fill="#000" stroke="#000" stroke-width="0.04">Unclassified <tspan font-style="italic">Comamonadaceae</tspan></text>
<text x="315" y="263.50" font-size="7.2" fill="#000" stroke="#000" stroke-width="0.04" textLength="189" lengthAdjust="spacing"><tspan font-style="italic">Allorhizobium–Neorhizobium– Pararhizobium-Rhizobium</tspan>*</text>
<text x="315" y="272.80" font-size="7.2" fill="#000" stroke="#000" stroke-width="0.04"><tspan font-style="italic">Novosphingobium</tspan>*</text>
<text x="315" y="282.10" font-size="7.2" fill="#000" stroke="#000" stroke-width="0.04"><tspan font-style="italic">Sphingomonas</tspan>*</text>
<text x="315" y="291.40" font-size="7.2" fill="#000" stroke="#000" stroke-width="0.04"><tspan font-style="italic">Flexibacter</tspan>*</text>
<text x="315" y="300.70" font-size="7.2" fill="#000" stroke="#000" stroke-width="0.04"><tspan font-style="italic">Pelomonas</tspan>*</text>
<text x="315" y="310.00" font-size="7.2" fill="#000" stroke="#000" stroke-width="0.04"><tspan font-style="italic">Curvibacter</tspan>*</text>
<text x="315" y="319.30" font-size="7.2" fill="#000" stroke="#000" stroke-width="0.04"><tspan font-style="italic">Methylophilus</tspan>*</text>
<text x="315" y="328.60" font-size="7.2" fill="#000" stroke="#000" stroke-width="0.04"><tspan font-style="italic">Edaphobaculum</tspan></text>
<text x="315" y="337.90" font-size="7.2" fill="#000" stroke="#000" stroke-width="0.04">Unclassified <tspan font-style="italic">Sphingomonadaceae</tspan></text>
<text x="315" y="347.20" font-size="7.2" fill="#000" stroke="#000" stroke-width="0.04"><tspan font-style="italic">Phreatobacter</tspan></text>
<text x="315" y="356.50" font-size="7.2" fill="#000" stroke="#000" stroke-width="0.04"><tspan font-style="italic">Pseudomonas</tspan></text>
<text x="315" y="365.80" font-size="7.2" fill="#000" stroke="#000" stroke-width="0.04"><tspan font-style="italic">Flectobacillus</tspan></text>
<text x="315" y="375.10" font-size="7.2" fill="#000" stroke="#000" stroke-width="0.04"><tspan font-style="italic">Caulobacter</tspan>*</text>
<text x="315" y="384.40" font-size="7.2" fill="#000" stroke="#000" stroke-width="0.04">Unclassified <tspan font-style="italic">Rhizobiaceae</tspan>*</text>
<text x="315" y="393.70" font-size="7.2" fill="#000" stroke="#000" stroke-width="0.04"><tspan font-style="italic">Fimbriimonadaceae</tspan>*</text>
<text x="315" y="403.00" font-size="7.2" fill="#000" stroke="#000" stroke-width="0.04"><tspan font-style="italic">Stenotrophomonas</tspan></text>
<text x="315" y="412.30" font-size="7.2" fill="#000" stroke="#000" stroke-width="0.04"><tspan font-style="italic">Romboutsia</tspan>*</text>
<text x="315" y="421.60" font-size="7.2" fill="#000" stroke="#000" stroke-width="0.04"><tspan font-style="italic">Herbaspirillum</tspan>*</text>
<text x="315" y="430.90" font-size="7.2" fill="#000" stroke="#000" stroke-width="0.04"><tspan font-style="italic">Lactobacillus</tspan>*</text>
<text x="315" y="440.20" font-size="7.2" fill="#000" stroke="#000" stroke-width="0.04"><tspan font-style="italic">Asticcacaulis</tspan>*</text>
<text x="315" y="449.50" font-size="7.2" fill="#000" stroke="#000" stroke-width="0.04"><tspan font-style="italic">Roseateles</tspan>*</text>
<text x="315" y="458.80" font-size="7.2" fill="#000" stroke="#000" stroke-width="0.04"><tspan font-style="italic">Leeia</tspan>*</text>
<text x="315" y="468.10" font-size="7.2" fill="#000" stroke="#000" stroke-width="0.04"><tspan font-style="italic">Acidovorax</tspan>*</text>
<path d="M417.90 53.60H421.90V245.80H417.90" stroke="#222" stroke-width="1.1" fill="none"/>
<path d="M504.80 246.50H509.40V395.50H504.80" stroke="#222" stroke-width="1.1" fill="none"/>
<path d="M389.00 400.10H393.20V472.70H389.00" stroke="#222" stroke-width="1.1" fill="none"/>
<text x="436.3" y="148.6" font-size="13" fill="#000" stroke="#000" stroke-width="0.05">i</text>
<text x="516.9" y="321.2" font-size="13" fill="#000" stroke="#000" stroke-width="0.05">ii</text>
<text x="408.0" y="441.4" font-size="13.5" fill="#000" stroke="#000" stroke-width="0.05">iii</text>
<path d="M53.60 473.50V477.30H82.80V473.50" stroke="#222" stroke-width="1.0" fill="none"/>
<text x="53.80" y="485.2" font-size="6.2" font-style="italic" fill="#000" stroke="#000" stroke-width="0.05">Landoltia</text>
<path d="M85.40 473.50V477.30H115.80V473.50" stroke="#222" stroke-width="1.0" fill="none"/>
<text x="90.10" y="485.2" font-size="6.2" font-style="italic" fill="#000" stroke="#000" stroke-width="0.05">Lemna</text>
<path d="M117.90 473.50V477.30H148.10V473.50" stroke="#222" stroke-width="1.0" fill="none"/>
<text x="122.60" y="485.2" font-size="6.2" font-style="italic" fill="#000" stroke="#000" stroke-width="0.05">Wolffia</text>
<path d="M150.10 473.50V477.30H181.40V473.50" stroke="#222" stroke-width="1.0" fill="none"/>
<text x="151.30" y="485.2" font-size="6.2" font-style="italic" fill="#000" stroke="#000" stroke-width="0.05">Spirodela</text>
<path d="M184.60 473.50V477.30H215.60V473.50" stroke="#222" stroke-width="1.0" fill="none"/>
<text x="187.10" y="485.2" font-size="6.2" font-style="italic" fill="#000" stroke="#000" stroke-width="0.05">Landoltia</text>
<path d="M216.90 473.50V477.30H247.40V473.50" stroke="#222" stroke-width="1.0" fill="none"/>
<text x="221.50" y="485.2" font-size="6.2" font-style="italic" fill="#000" stroke="#000" stroke-width="0.05">Lemna</text>
<path d="M249.20 473.50V477.30H279.80V473.50" stroke="#222" stroke-width="1.0" fill="none"/>
<text x="253.60" y="485.2" font-size="6.2" font-style="italic" fill="#000" stroke="#000" stroke-width="0.05">Wolffia</text>
<path d="M282.40 473.50V477.30H312.80V473.50" stroke="#222" stroke-width="1.0" fill="none"/>
<text x="283.50" y="485.2" font-size="6.2" font-style="italic" fill="#000" stroke="#000" stroke-width="0.05">Spirodela</text>
<path d="M53.70 493.10V496.80H182.50V493.10" stroke="#222" stroke-width="1.2" fill="none"/>
<path d="M185.70 493.10V496.80H313.80V493.10" stroke="#222" stroke-width="1.2" fill="none"/>
<text x="119.2" y="509.2" font-size="13.4" font-weight="bold" text-anchor="middle" fill="#000">Natural</text>
<text x="252.9" y="509.0" font-size="13.4" font-weight="bold" text-anchor="middle" fill="#000">Stress</text>
<text transform="translate(50.0,490.7) rotate(-90)" font-size="8.3" font-weight="bold" text-anchor="middle" fill="#000">Phylum</text>
<text x="472.8" y="39.9" font-size="7" font-weight="bold" fill="#111">Phylum</text>
<rect x="473" y="44.80" width="7.3" height="7.95" fill="#a6cee3"/>
<text x="482.9" y="50.80" font-size="7" fill="#1a1a1a">Acidobacteriota</text>
<rect x="473" y="52.75" width="7.3" height="7.95" fill="#1f78b4"/>
<text x="482.9" y="58.75" font-size="7" fill="#1a1a1a">Armatimonadota</text>
<rect x="473" y="60.70" width="7.3" height="7.95" fill="#b2df8a"/>
<text x="482.9" y="66.70" font-size="7" fill="#1a1a1a">Bacteroidota</text>
<rect x="473" y="68.65" width="7.3" height="7.95" fill="#33a02c"/>
<text x="482.9" y="74.65" font-size="7" fill="#1a1a1a">Chloroflexi</text>
<rect x="473" y="76.60" width="7.3" height="7.95" fill="#fb9a99"/>
<text x="482.9" y="82.60" font-size="7" fill="#1a1a1a">Cyanobacteria</text>
<rect x="473" y="84.55" width="7.3" height="7.95" fill="#e31a1c"/>
<text x="482.9" y="90.55" font-size="7" fill="#1a1a1a">Desulfobacterota</text>
<rect x="473" y="92.50" width="7.3" height="7.95" fill="#fdbf6f"/>
<text x="482.9" y="98.50" font-size="7" fill="#1a1a1a">Firmicutes</text>
<rect x="473" y="100.45" width="7.3" height="7.95" fill="#ff7f00"/>
<text x="482.9" y="106.45" font-size="7" fill="#1a1a1a">Gemmatimonadota</text>
<rect x="473" y="108.40" width="7.3" height="7.95" fill="#cab2d6"/>
<text x="482.9" y="114.40" font-size="7" fill="#1a1a1a">Proteobacteria</text>
<text x="473.6" y="148" font-size="9" font-weight="bold" fill="#000">clr</text>
<defs><linearGradient id="g" x1="0" y1="0" x2="0" y2="1"><stop offset="0" stop-color="#d73027"/><stop offset="0.30" stop-color="#d73027"/><stop offset="0.36" stop-color="#f46d43"/><stop offset="0.45" stop-color="#fdae61"/><stop offset="0.56" stop-color="#fee090"/><stop offset="0.66" stop-color="#ffffbf"/><stop offset="0.76" stop-color="#e0f3f8"/><stop offset="0.86" stop-color="#abd9e9"/><stop offset="0.93" stop-color="#74add1"/><stop offset="1" stop-color="#4575b4"/></linearGradient></defs>
<rect x="474.2" y="154.5" width="8.7" height="42.8" fill="url(#g)"/>
<path d="M474.2 156.50h1.6M481.3 156.50h1.6" stroke="#fff" stroke-width="0.6"/>
<text x="484.8" y="158.80" font-size="6.5" fill="#1a1a1a">10</text>
<path d="M474.2 169.60h1.6M481.3 169.60h1.6" stroke="#fff" stroke-width="0.6"/>
<text x="484.8" y="171.90" font-size="6.5" fill="#1a1a1a">5</text>
<path d="M474.2 182.70h1.6M481.3 182.70h1.6" stroke="#fff" stroke-width="0.6"/>
<text x="484.8" y="185.00" font-size="6.5" fill="#1a1a1a">0</text>
<path d="M474.2 196.30h1.6M481.3 196.30h1.6" stroke="#fff" stroke-width="0.6"/>
<text x="484.8" y="198.60" font-size="6.5" fill="#1a1a1a">−5</text>
</svg></body></html>
